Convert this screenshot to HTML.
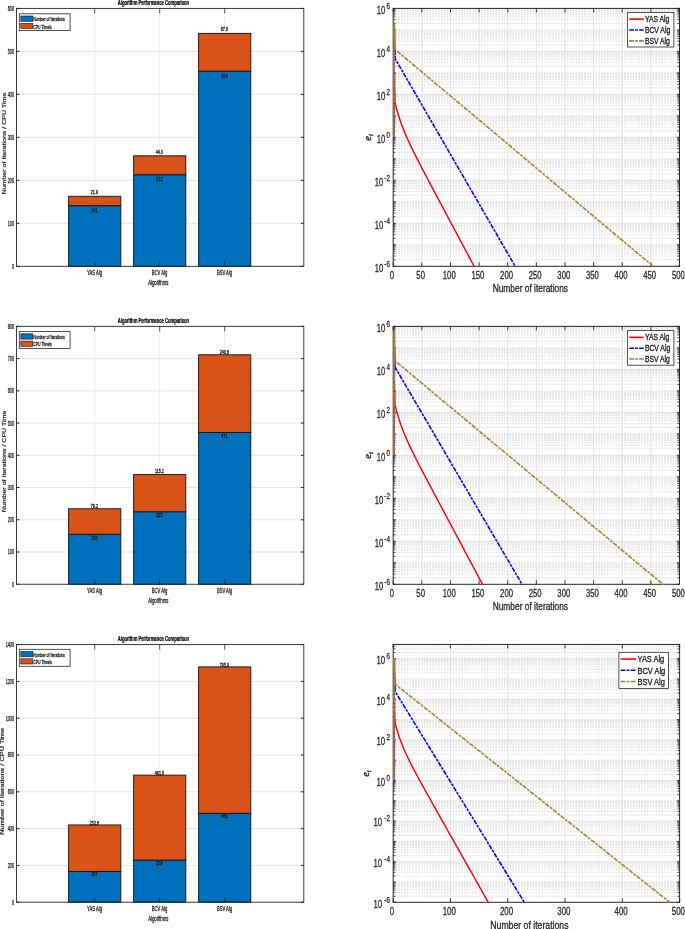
<!DOCTYPE html>
<html lang="en">
<head>
<meta charset="utf-8">
<title>Algorithm Performance Comparison</title>
<style>
html,body{margin:0;padding:0;background:#fff;}
body{width:685px;height:929px;overflow:hidden;}
svg{display:block;font-family:"Liberation Sans", sans-serif;}
</style>
</head>
<body>
<svg width="685" height="929" viewBox="0 0 685 929">
<rect x="0" y="0" width="685" height="929" fill="#ffffff"/>
<line x1="16.5" y1="223.32" x2="303.8" y2="223.32" stroke="#e2e2e2" stroke-width="0.9"/>
<line x1="16.5" y1="180.33" x2="303.8" y2="180.33" stroke="#e2e2e2" stroke-width="0.9"/>
<line x1="16.5" y1="137.35" x2="303.8" y2="137.35" stroke="#e2e2e2" stroke-width="0.9"/>
<line x1="16.5" y1="94.37" x2="303.8" y2="94.37" stroke="#e2e2e2" stroke-width="0.9"/>
<line x1="16.5" y1="51.38" x2="303.8" y2="51.38" stroke="#e2e2e2" stroke-width="0.9"/>
<line x1="94.7" y1="8.4" x2="94.7" y2="266.3" stroke="#e2e2e2" stroke-width="0.7"/>
<line x1="159.7" y1="8.4" x2="159.7" y2="266.3" stroke="#e2e2e2" stroke-width="0.7"/>
<line x1="224.7" y1="8.4" x2="224.7" y2="266.3" stroke="#e2e2e2" stroke-width="0.7"/>
<rect x="68.6" y="205.69" width="52.2" height="60.61" fill="#0072BD" stroke="#111" stroke-width="0.9"/>
<rect x="68.6" y="196.28" width="52.2" height="9.41" fill="#D95319" stroke="#111" stroke-width="0.9"/>
<text transform="translate(94.4 194.28) scale(0.65 1)" font-size="5.7" text-anchor="middle" fill="#111" stroke="#111" stroke-width="0.28">21.9</text>
<text transform="translate(94.4 212.33) scale(0.65 1)" font-size="5.7" text-anchor="middle" fill="#111" stroke="#111" stroke-width="0.28">141</text>
<rect x="133.6" y="174.75" width="52.2" height="91.55" fill="#0072BD" stroke="#111" stroke-width="0.9"/>
<rect x="133.6" y="155.83" width="52.2" height="18.91" fill="#D95319" stroke="#111" stroke-width="0.9"/>
<text transform="translate(159.4 153.84) scale(0.65 1)" font-size="5.7" text-anchor="middle" fill="#111" stroke="#111" stroke-width="0.28">44.0</text>
<text transform="translate(159.4 181.38) scale(0.65 1)" font-size="5.7" text-anchor="middle" fill="#111" stroke="#111" stroke-width="0.28">213</text>
<rect x="198.6" y="71.16" width="52.2" height="195.14" fill="#0072BD" stroke="#111" stroke-width="0.9"/>
<rect x="198.6" y="33.37" width="52.2" height="37.78" fill="#D95319" stroke="#111" stroke-width="0.9"/>
<text transform="translate(224.4 31.38) scale(0.65 1)" font-size="5.7" text-anchor="middle" fill="#111" stroke="#111" stroke-width="0.28">87.9</text>
<text transform="translate(224.4 77.79) scale(0.65 1)" font-size="5.7" text-anchor="middle" fill="#111" stroke="#111" stroke-width="0.28">454</text>
<rect x="16.5" y="8.4" width="287.3" height="257.9" fill="none" stroke="#262626" stroke-width="0.9"/>
<line x1="16.5" y1="266.3" x2="19.5" y2="266.3" stroke="#262626" stroke-width="1"/>
<line x1="303.8" y1="266.3" x2="300.8" y2="266.3" stroke="#262626" stroke-width="1"/>
<text transform="translate(14.1 268.75) scale(0.56 1)" font-size="6.8" text-anchor="end" fill="#262626" stroke="#262626" stroke-width="0.28">0</text>
<line x1="16.5" y1="223.32" x2="19.5" y2="223.32" stroke="#262626" stroke-width="1"/>
<line x1="303.8" y1="223.32" x2="300.8" y2="223.32" stroke="#262626" stroke-width="1"/>
<text transform="translate(14.1 225.77) scale(0.56 1)" font-size="6.8" text-anchor="end" fill="#262626" stroke="#262626" stroke-width="0.28">100</text>
<line x1="16.5" y1="180.33" x2="19.5" y2="180.33" stroke="#262626" stroke-width="1"/>
<line x1="303.8" y1="180.33" x2="300.8" y2="180.33" stroke="#262626" stroke-width="1"/>
<text transform="translate(14.1 182.78) scale(0.56 1)" font-size="6.8" text-anchor="end" fill="#262626" stroke="#262626" stroke-width="0.28">200</text>
<line x1="16.5" y1="137.35" x2="19.5" y2="137.35" stroke="#262626" stroke-width="1"/>
<line x1="303.8" y1="137.35" x2="300.8" y2="137.35" stroke="#262626" stroke-width="1"/>
<text transform="translate(14.1 139.8) scale(0.56 1)" font-size="6.8" text-anchor="end" fill="#262626" stroke="#262626" stroke-width="0.28">300</text>
<line x1="16.5" y1="94.37" x2="19.5" y2="94.37" stroke="#262626" stroke-width="1"/>
<line x1="303.8" y1="94.37" x2="300.8" y2="94.37" stroke="#262626" stroke-width="1"/>
<text transform="translate(14.1 96.82) scale(0.56 1)" font-size="6.8" text-anchor="end" fill="#262626" stroke="#262626" stroke-width="0.28">400</text>
<line x1="16.5" y1="51.38" x2="19.5" y2="51.38" stroke="#262626" stroke-width="1"/>
<line x1="303.8" y1="51.38" x2="300.8" y2="51.38" stroke="#262626" stroke-width="1"/>
<text transform="translate(14.1 53.83) scale(0.56 1)" font-size="6.8" text-anchor="end" fill="#262626" stroke="#262626" stroke-width="0.28">500</text>
<line x1="16.5" y1="8.4" x2="19.5" y2="8.4" stroke="#262626" stroke-width="1"/>
<line x1="303.8" y1="8.4" x2="300.8" y2="8.4" stroke="#262626" stroke-width="1"/>
<text transform="translate(14.1 10.85) scale(0.56 1)" font-size="6.8" text-anchor="end" fill="#262626" stroke="#262626" stroke-width="0.28">600</text>
<line x1="94.7" y1="266.3" x2="94.7" y2="261.3" stroke="#262626" stroke-width="0.75"/>
<line x1="94.7" y1="8.4" x2="94.7" y2="13.4" stroke="#262626" stroke-width="0.75"/>
<text transform="translate(94.5 275.3) scale(0.66 1)" font-size="6.3" text-anchor="middle" fill="#262626" stroke="#262626" stroke-width="0.28">YAS Alg</text>
<line x1="159.7" y1="266.3" x2="159.7" y2="261.3" stroke="#262626" stroke-width="0.75"/>
<line x1="159.7" y1="8.4" x2="159.7" y2="13.4" stroke="#262626" stroke-width="0.75"/>
<text transform="translate(159.5 275.3) scale(0.66 1)" font-size="6.3" text-anchor="middle" fill="#262626" stroke="#262626" stroke-width="0.28">BCV Alg</text>
<line x1="224.7" y1="266.3" x2="224.7" y2="261.3" stroke="#262626" stroke-width="0.75"/>
<line x1="224.7" y1="8.4" x2="224.7" y2="13.4" stroke="#262626" stroke-width="0.75"/>
<text transform="translate(224.5 275.3) scale(0.66 1)" font-size="6.3" text-anchor="middle" fill="#262626" stroke="#262626" stroke-width="0.28">BSV Alg</text>
<text transform="translate(158.25 284.7) scale(0.65 1)" font-size="6.6" text-anchor="middle" fill="#262626" stroke="#262626" stroke-width="0.28">Algorithms</text>
<text transform="translate(5.7 143.55) rotate(-90) scale(1 0.65)" font-size="7.06" text-anchor="middle" fill="#262626" stroke="#262626" stroke-width="0.28">Number of Iterations / CPU Time</text>
<text transform="translate(153.45 5.35) scale(0.65 1)" font-size="6.4" text-anchor="middle" fill="#000" font-weight="bold" stroke="#000" stroke-width="0.25">Algorithm Performance Comparison</text>
<rect x="19.3" y="13.8" width="50.8" height="16.8" fill="#fff" stroke="#262626" stroke-width="0.8"/>
<rect x="20.8" y="16" width="12" height="5.3" fill="#0072BD" stroke="#111" stroke-width="0.6"/>
<rect x="20.8" y="23.3" width="12" height="5.2" fill="#D95319" stroke="#111" stroke-width="0.6"/>
<text transform="translate(33.3 21.4) scale(0.56 1)" font-size="6.2" text-anchor="start" fill="#111" stroke="#111" stroke-width="0.28">Number of Iterations</text>
<text transform="translate(33.3 28.6) scale(0.56 1)" font-size="6.2" text-anchor="start" fill="#111" stroke="#111" stroke-width="0.28">CPU Time/s</text>
<g>
<g stroke="#fafafa" stroke-width="0.8" opacity="1">
<line x1="396.06" y1="8.4" x2="396.06" y2="266.3"/>
<line x1="398.93" y1="8.4" x2="398.93" y2="266.3"/>
<line x1="401.79" y1="8.4" x2="401.79" y2="266.3"/>
<line x1="404.65" y1="8.4" x2="404.65" y2="266.3"/>
<line x1="407.51" y1="8.4" x2="407.51" y2="266.3"/>
<line x1="410.38" y1="8.4" x2="410.38" y2="266.3"/>
<line x1="413.24" y1="8.4" x2="413.24" y2="266.3"/>
<line x1="416.1" y1="8.4" x2="416.1" y2="266.3"/>
<line x1="418.97" y1="8.4" x2="418.97" y2="266.3"/>
<line x1="424.69" y1="8.4" x2="424.69" y2="266.3"/>
<line x1="427.56" y1="8.4" x2="427.56" y2="266.3"/>
<line x1="430.42" y1="8.4" x2="430.42" y2="266.3"/>
<line x1="433.28" y1="8.4" x2="433.28" y2="266.3"/>
<line x1="436.14" y1="8.4" x2="436.14" y2="266.3"/>
<line x1="439.01" y1="8.4" x2="439.01" y2="266.3"/>
<line x1="441.87" y1="8.4" x2="441.87" y2="266.3"/>
<line x1="444.73" y1="8.4" x2="444.73" y2="266.3"/>
<line x1="447.6" y1="8.4" x2="447.6" y2="266.3"/>
<line x1="453.32" y1="8.4" x2="453.32" y2="266.3"/>
<line x1="456.19" y1="8.4" x2="456.19" y2="266.3"/>
<line x1="459.05" y1="8.4" x2="459.05" y2="266.3"/>
<line x1="461.91" y1="8.4" x2="461.91" y2="266.3"/>
<line x1="464.77" y1="8.4" x2="464.77" y2="266.3"/>
<line x1="467.64" y1="8.4" x2="467.64" y2="266.3"/>
<line x1="470.5" y1="8.4" x2="470.5" y2="266.3"/>
<line x1="473.36" y1="8.4" x2="473.36" y2="266.3"/>
<line x1="476.23" y1="8.4" x2="476.23" y2="266.3"/>
<line x1="481.95" y1="8.4" x2="481.95" y2="266.3"/>
<line x1="484.82" y1="8.4" x2="484.82" y2="266.3"/>
<line x1="487.68" y1="8.4" x2="487.68" y2="266.3"/>
<line x1="490.54" y1="8.4" x2="490.54" y2="266.3"/>
<line x1="493.4" y1="8.4" x2="493.4" y2="266.3"/>
<line x1="496.27" y1="8.4" x2="496.27" y2="266.3"/>
<line x1="499.13" y1="8.4" x2="499.13" y2="266.3"/>
<line x1="501.99" y1="8.4" x2="501.99" y2="266.3"/>
<line x1="504.86" y1="8.4" x2="504.86" y2="266.3"/>
<line x1="510.58" y1="8.4" x2="510.58" y2="266.3"/>
<line x1="513.45" y1="8.4" x2="513.45" y2="266.3"/>
<line x1="516.31" y1="8.4" x2="516.31" y2="266.3"/>
<line x1="519.17" y1="8.4" x2="519.17" y2="266.3"/>
<line x1="522.03" y1="8.4" x2="522.03" y2="266.3"/>
<line x1="524.9" y1="8.4" x2="524.9" y2="266.3"/>
<line x1="527.76" y1="8.4" x2="527.76" y2="266.3"/>
<line x1="530.62" y1="8.4" x2="530.62" y2="266.3"/>
<line x1="533.49" y1="8.4" x2="533.49" y2="266.3"/>
<line x1="539.21" y1="8.4" x2="539.21" y2="266.3"/>
<line x1="542.08" y1="8.4" x2="542.08" y2="266.3"/>
<line x1="544.94" y1="8.4" x2="544.94" y2="266.3"/>
<line x1="547.8" y1="8.4" x2="547.8" y2="266.3"/>
<line x1="550.66" y1="8.4" x2="550.66" y2="266.3"/>
<line x1="553.53" y1="8.4" x2="553.53" y2="266.3"/>
<line x1="556.39" y1="8.4" x2="556.39" y2="266.3"/>
<line x1="559.25" y1="8.4" x2="559.25" y2="266.3"/>
<line x1="562.12" y1="8.4" x2="562.12" y2="266.3"/>
<line x1="567.84" y1="8.4" x2="567.84" y2="266.3"/>
<line x1="570.71" y1="8.4" x2="570.71" y2="266.3"/>
<line x1="573.57" y1="8.4" x2="573.57" y2="266.3"/>
<line x1="576.43" y1="8.4" x2="576.43" y2="266.3"/>
<line x1="579.29" y1="8.4" x2="579.29" y2="266.3"/>
<line x1="582.16" y1="8.4" x2="582.16" y2="266.3"/>
<line x1="585.02" y1="8.4" x2="585.02" y2="266.3"/>
<line x1="587.88" y1="8.4" x2="587.88" y2="266.3"/>
<line x1="590.75" y1="8.4" x2="590.75" y2="266.3"/>
<line x1="596.47" y1="8.4" x2="596.47" y2="266.3"/>
<line x1="599.34" y1="8.4" x2="599.34" y2="266.3"/>
<line x1="602.2" y1="8.4" x2="602.2" y2="266.3"/>
<line x1="605.06" y1="8.4" x2="605.06" y2="266.3"/>
<line x1="607.92" y1="8.4" x2="607.92" y2="266.3"/>
<line x1="610.79" y1="8.4" x2="610.79" y2="266.3"/>
<line x1="613.65" y1="8.4" x2="613.65" y2="266.3"/>
<line x1="616.51" y1="8.4" x2="616.51" y2="266.3"/>
<line x1="619.38" y1="8.4" x2="619.38" y2="266.3"/>
<line x1="625.1" y1="8.4" x2="625.1" y2="266.3"/>
<line x1="627.97" y1="8.4" x2="627.97" y2="266.3"/>
<line x1="630.83" y1="8.4" x2="630.83" y2="266.3"/>
<line x1="633.69" y1="8.4" x2="633.69" y2="266.3"/>
<line x1="636.55" y1="8.4" x2="636.55" y2="266.3"/>
<line x1="639.42" y1="8.4" x2="639.42" y2="266.3"/>
<line x1="642.28" y1="8.4" x2="642.28" y2="266.3"/>
<line x1="645.14" y1="8.4" x2="645.14" y2="266.3"/>
<line x1="648.01" y1="8.4" x2="648.01" y2="266.3"/>
<line x1="653.73" y1="8.4" x2="653.73" y2="266.3"/>
<line x1="656.6" y1="8.4" x2="656.6" y2="266.3"/>
<line x1="659.46" y1="8.4" x2="659.46" y2="266.3"/>
<line x1="662.32" y1="8.4" x2="662.32" y2="266.3"/>
<line x1="665.18" y1="8.4" x2="665.18" y2="266.3"/>
<line x1="668.05" y1="8.4" x2="668.05" y2="266.3"/>
<line x1="670.91" y1="8.4" x2="670.91" y2="266.3"/>
<line x1="673.77" y1="8.4" x2="673.77" y2="266.3"/>
<line x1="676.64" y1="8.4" x2="676.64" y2="266.3"/>
</g>
<g stroke="#d6d6d6" stroke-width="0.7" stroke-dasharray="1.8 1.06" stroke-dashoffset="0.9">
<line x1="393.2" y1="259.81" x2="679.5" y2="259.81"/>
<line x1="393.2" y1="256.03" x2="679.5" y2="256.03"/>
<line x1="393.2" y1="253.34" x2="679.5" y2="253.34"/>
<line x1="393.2" y1="251.26" x2="679.5" y2="251.26"/>
<line x1="393.2" y1="249.56" x2="679.5" y2="249.56"/>
<line x1="393.2" y1="248.12" x2="679.5" y2="248.12"/>
<line x1="393.2" y1="246.87" x2="679.5" y2="246.87"/>
<line x1="393.2" y1="245.77" x2="679.5" y2="245.77"/>
<line x1="393.2" y1="244.79" x2="679.5" y2="244.79"/>
<line x1="393.2" y1="238.32" x2="679.5" y2="238.32"/>
<line x1="393.2" y1="234.54" x2="679.5" y2="234.54"/>
<line x1="393.2" y1="231.85" x2="679.5" y2="231.85"/>
<line x1="393.2" y1="229.77" x2="679.5" y2="229.77"/>
<line x1="393.2" y1="228.07" x2="679.5" y2="228.07"/>
<line x1="393.2" y1="226.63" x2="679.5" y2="226.63"/>
<line x1="393.2" y1="225.38" x2="679.5" y2="225.38"/>
<line x1="393.2" y1="224.28" x2="679.5" y2="224.28"/>
<line x1="393.2" y1="216.83" x2="679.5" y2="216.83"/>
<line x1="393.2" y1="213.05" x2="679.5" y2="213.05"/>
<line x1="393.2" y1="210.36" x2="679.5" y2="210.36"/>
<line x1="393.2" y1="208.28" x2="679.5" y2="208.28"/>
<line x1="393.2" y1="206.58" x2="679.5" y2="206.58"/>
<line x1="393.2" y1="205.14" x2="679.5" y2="205.14"/>
<line x1="393.2" y1="203.89" x2="679.5" y2="203.89"/>
<line x1="393.2" y1="202.79" x2="679.5" y2="202.79"/>
<line x1="393.2" y1="201.81" x2="679.5" y2="201.81"/>
<line x1="393.2" y1="195.34" x2="679.5" y2="195.34"/>
<line x1="393.2" y1="191.56" x2="679.5" y2="191.56"/>
<line x1="393.2" y1="188.87" x2="679.5" y2="188.87"/>
<line x1="393.2" y1="186.79" x2="679.5" y2="186.79"/>
<line x1="393.2" y1="185.09" x2="679.5" y2="185.09"/>
<line x1="393.2" y1="183.65" x2="679.5" y2="183.65"/>
<line x1="393.2" y1="182.4" x2="679.5" y2="182.4"/>
<line x1="393.2" y1="181.3" x2="679.5" y2="181.3"/>
<line x1="393.2" y1="173.85" x2="679.5" y2="173.85"/>
<line x1="393.2" y1="170.07" x2="679.5" y2="170.07"/>
<line x1="393.2" y1="167.38" x2="679.5" y2="167.38"/>
<line x1="393.2" y1="165.3" x2="679.5" y2="165.3"/>
<line x1="393.2" y1="163.6" x2="679.5" y2="163.6"/>
<line x1="393.2" y1="162.16" x2="679.5" y2="162.16"/>
<line x1="393.2" y1="160.91" x2="679.5" y2="160.91"/>
<line x1="393.2" y1="159.81" x2="679.5" y2="159.81"/>
<line x1="393.2" y1="158.83" x2="679.5" y2="158.83"/>
<line x1="393.2" y1="152.36" x2="679.5" y2="152.36"/>
<line x1="393.2" y1="148.58" x2="679.5" y2="148.58"/>
<line x1="393.2" y1="145.89" x2="679.5" y2="145.89"/>
<line x1="393.2" y1="143.81" x2="679.5" y2="143.81"/>
<line x1="393.2" y1="142.11" x2="679.5" y2="142.11"/>
<line x1="393.2" y1="140.67" x2="679.5" y2="140.67"/>
<line x1="393.2" y1="139.42" x2="679.5" y2="139.42"/>
<line x1="393.2" y1="138.32" x2="679.5" y2="138.32"/>
<line x1="393.2" y1="130.87" x2="679.5" y2="130.87"/>
<line x1="393.2" y1="127.09" x2="679.5" y2="127.09"/>
<line x1="393.2" y1="124.4" x2="679.5" y2="124.4"/>
<line x1="393.2" y1="122.32" x2="679.5" y2="122.32"/>
<line x1="393.2" y1="120.62" x2="679.5" y2="120.62"/>
<line x1="393.2" y1="119.18" x2="679.5" y2="119.18"/>
<line x1="393.2" y1="117.93" x2="679.5" y2="117.93"/>
<line x1="393.2" y1="116.83" x2="679.5" y2="116.83"/>
<line x1="393.2" y1="115.85" x2="679.5" y2="115.85"/>
<line x1="393.2" y1="109.38" x2="679.5" y2="109.38"/>
<line x1="393.2" y1="105.6" x2="679.5" y2="105.6"/>
<line x1="393.2" y1="102.91" x2="679.5" y2="102.91"/>
<line x1="393.2" y1="100.83" x2="679.5" y2="100.83"/>
<line x1="393.2" y1="99.13" x2="679.5" y2="99.13"/>
<line x1="393.2" y1="97.69" x2="679.5" y2="97.69"/>
<line x1="393.2" y1="96.44" x2="679.5" y2="96.44"/>
<line x1="393.2" y1="95.34" x2="679.5" y2="95.34"/>
<line x1="393.2" y1="87.89" x2="679.5" y2="87.89"/>
<line x1="393.2" y1="84.11" x2="679.5" y2="84.11"/>
<line x1="393.2" y1="81.42" x2="679.5" y2="81.42"/>
<line x1="393.2" y1="79.34" x2="679.5" y2="79.34"/>
<line x1="393.2" y1="77.64" x2="679.5" y2="77.64"/>
<line x1="393.2" y1="76.2" x2="679.5" y2="76.2"/>
<line x1="393.2" y1="74.95" x2="679.5" y2="74.95"/>
<line x1="393.2" y1="73.85" x2="679.5" y2="73.85"/>
<line x1="393.2" y1="72.87" x2="679.5" y2="72.87"/>
<line x1="393.2" y1="66.4" x2="679.5" y2="66.4"/>
<line x1="393.2" y1="62.62" x2="679.5" y2="62.62"/>
<line x1="393.2" y1="59.93" x2="679.5" y2="59.93"/>
<line x1="393.2" y1="57.85" x2="679.5" y2="57.85"/>
<line x1="393.2" y1="56.15" x2="679.5" y2="56.15"/>
<line x1="393.2" y1="54.71" x2="679.5" y2="54.71"/>
<line x1="393.2" y1="53.46" x2="679.5" y2="53.46"/>
<line x1="393.2" y1="52.36" x2="679.5" y2="52.36"/>
<line x1="393.2" y1="44.91" x2="679.5" y2="44.91"/>
<line x1="393.2" y1="41.13" x2="679.5" y2="41.13"/>
<line x1="393.2" y1="38.44" x2="679.5" y2="38.44"/>
<line x1="393.2" y1="36.36" x2="679.5" y2="36.36"/>
<line x1="393.2" y1="34.66" x2="679.5" y2="34.66"/>
<line x1="393.2" y1="33.22" x2="679.5" y2="33.22"/>
<line x1="393.2" y1="31.97" x2="679.5" y2="31.97"/>
<line x1="393.2" y1="30.87" x2="679.5" y2="30.87"/>
<line x1="393.2" y1="29.89" x2="679.5" y2="29.89"/>
<line x1="393.2" y1="23.42" x2="679.5" y2="23.42"/>
<line x1="393.2" y1="19.64" x2="679.5" y2="19.64"/>
<line x1="393.2" y1="16.95" x2="679.5" y2="16.95"/>
<line x1="393.2" y1="14.87" x2="679.5" y2="14.87"/>
<line x1="393.2" y1="13.17" x2="679.5" y2="13.17"/>
<line x1="393.2" y1="11.73" x2="679.5" y2="11.73"/>
<line x1="393.2" y1="10.48" x2="679.5" y2="10.48"/>
<line x1="393.2" y1="9.38" x2="679.5" y2="9.38"/>
</g>
<line x1="421.83" y1="8.4" x2="421.83" y2="266.3" stroke="#e1e1e1" stroke-width="0.9"/>
<line x1="450.46" y1="8.4" x2="450.46" y2="266.3" stroke="#e1e1e1" stroke-width="0.9"/>
<line x1="479.09" y1="8.4" x2="479.09" y2="266.3" stroke="#e1e1e1" stroke-width="0.9"/>
<line x1="507.72" y1="8.4" x2="507.72" y2="266.3" stroke="#e1e1e1" stroke-width="0.9"/>
<line x1="536.35" y1="8.4" x2="536.35" y2="266.3" stroke="#e1e1e1" stroke-width="0.9"/>
<line x1="564.98" y1="8.4" x2="564.98" y2="266.3" stroke="#e1e1e1" stroke-width="0.9"/>
<line x1="593.61" y1="8.4" x2="593.61" y2="266.3" stroke="#e1e1e1" stroke-width="0.9"/>
<line x1="622.24" y1="8.4" x2="622.24" y2="266.3" stroke="#e1e1e1" stroke-width="0.9"/>
<line x1="650.87" y1="8.4" x2="650.87" y2="266.3" stroke="#e1e1e1" stroke-width="0.9"/>
<line x1="393.2" y1="223.3" x2="679.5" y2="223.3" stroke="#e1e1e1" stroke-width="1"/>
<line x1="393.2" y1="180.32" x2="679.5" y2="180.32" stroke="#e1e1e1" stroke-width="1"/>
<line x1="393.2" y1="137.34" x2="679.5" y2="137.34" stroke="#e1e1e1" stroke-width="1"/>
<line x1="393.2" y1="94.36" x2="679.5" y2="94.36" stroke="#e1e1e1" stroke-width="1"/>
<line x1="393.2" y1="51.38" x2="679.5" y2="51.38" stroke="#e1e1e1" stroke-width="1"/>
<rect x="393.2" y="8.4" width="286.3" height="257.9" fill="none" stroke="#262626" stroke-width="1"/>
<line x1="393.2" y1="266.3" x2="393.2" y2="262.3" stroke="#262626" stroke-width="0.9"/>
<line x1="393.2" y1="8.4" x2="393.2" y2="12.4" stroke="#262626" stroke-width="0.9"/>
<text transform="translate(392 278.8) scale(0.77 1)" font-size="10" text-anchor="middle" fill="#262626" stroke="#262626" stroke-width="0.28">0</text>
<line x1="421.83" y1="266.3" x2="421.83" y2="262.3" stroke="#262626" stroke-width="0.9"/>
<line x1="421.83" y1="8.4" x2="421.83" y2="12.4" stroke="#262626" stroke-width="0.9"/>
<text transform="translate(420.63 278.8) scale(0.77 1)" font-size="10" text-anchor="middle" fill="#262626" stroke="#262626" stroke-width="0.28">50</text>
<line x1="450.46" y1="266.3" x2="450.46" y2="262.3" stroke="#262626" stroke-width="0.9"/>
<line x1="450.46" y1="8.4" x2="450.46" y2="12.4" stroke="#262626" stroke-width="0.9"/>
<text transform="translate(449.26 278.8) scale(0.77 1)" font-size="10" text-anchor="middle" fill="#262626" stroke="#262626" stroke-width="0.28">100</text>
<line x1="479.09" y1="266.3" x2="479.09" y2="262.3" stroke="#262626" stroke-width="0.9"/>
<line x1="479.09" y1="8.4" x2="479.09" y2="12.4" stroke="#262626" stroke-width="0.9"/>
<text transform="translate(477.89 278.8) scale(0.77 1)" font-size="10" text-anchor="middle" fill="#262626" stroke="#262626" stroke-width="0.28">150</text>
<line x1="507.72" y1="266.3" x2="507.72" y2="262.3" stroke="#262626" stroke-width="0.9"/>
<line x1="507.72" y1="8.4" x2="507.72" y2="12.4" stroke="#262626" stroke-width="0.9"/>
<text transform="translate(506.52 278.8) scale(0.77 1)" font-size="10" text-anchor="middle" fill="#262626" stroke="#262626" stroke-width="0.28">200</text>
<line x1="536.35" y1="266.3" x2="536.35" y2="262.3" stroke="#262626" stroke-width="0.9"/>
<line x1="536.35" y1="8.4" x2="536.35" y2="12.4" stroke="#262626" stroke-width="0.9"/>
<text transform="translate(535.15 278.8) scale(0.77 1)" font-size="10" text-anchor="middle" fill="#262626" stroke="#262626" stroke-width="0.28">250</text>
<line x1="564.98" y1="266.3" x2="564.98" y2="262.3" stroke="#262626" stroke-width="0.9"/>
<line x1="564.98" y1="8.4" x2="564.98" y2="12.4" stroke="#262626" stroke-width="0.9"/>
<text transform="translate(563.78 278.8) scale(0.77 1)" font-size="10" text-anchor="middle" fill="#262626" stroke="#262626" stroke-width="0.28">300</text>
<line x1="593.61" y1="266.3" x2="593.61" y2="262.3" stroke="#262626" stroke-width="0.9"/>
<line x1="593.61" y1="8.4" x2="593.61" y2="12.4" stroke="#262626" stroke-width="0.9"/>
<text transform="translate(592.41 278.8) scale(0.77 1)" font-size="10" text-anchor="middle" fill="#262626" stroke="#262626" stroke-width="0.28">350</text>
<line x1="622.24" y1="266.3" x2="622.24" y2="262.3" stroke="#262626" stroke-width="0.9"/>
<line x1="622.24" y1="8.4" x2="622.24" y2="12.4" stroke="#262626" stroke-width="0.9"/>
<text transform="translate(621.04 278.8) scale(0.77 1)" font-size="10" text-anchor="middle" fill="#262626" stroke="#262626" stroke-width="0.28">400</text>
<line x1="650.87" y1="266.3" x2="650.87" y2="262.3" stroke="#262626" stroke-width="0.9"/>
<line x1="650.87" y1="8.4" x2="650.87" y2="12.4" stroke="#262626" stroke-width="0.9"/>
<text transform="translate(649.67 278.8) scale(0.77 1)" font-size="10" text-anchor="middle" fill="#262626" stroke="#262626" stroke-width="0.28">450</text>
<line x1="679.5" y1="266.3" x2="679.5" y2="262.3" stroke="#262626" stroke-width="0.9"/>
<line x1="679.5" y1="8.4" x2="679.5" y2="12.4" stroke="#262626" stroke-width="0.9"/>
<text transform="translate(678.3 278.8) scale(0.77 1)" font-size="10" text-anchor="middle" fill="#262626" stroke="#262626" stroke-width="0.28">500</text>
<line x1="393.2" y1="266.28" x2="396" y2="266.28" stroke="#262626" stroke-width="0.9"/>
<line x1="679.5" y1="266.28" x2="676.7" y2="266.28" stroke="#262626" stroke-width="0.9"/>
<text transform="translate(383.2 271.53) scale(0.76 1)" font-size="10" text-anchor="end" fill="#262626" stroke="#262626" stroke-width="0.28">10</text>
<text transform="translate(389.9 266.58) scale(0.75 1)" font-size="8.4" text-anchor="end" fill="#262626" stroke="#262626" stroke-width="0.28">-6</text>
<line x1="393.2" y1="259.81" x2="395.3" y2="259.81" stroke="#262626" stroke-width="0.85"/>
<line x1="679.5" y1="259.81" x2="677.4" y2="259.81" stroke="#262626" stroke-width="0.85"/>
<line x1="393.2" y1="256.03" x2="395.3" y2="256.03" stroke="#262626" stroke-width="0.85"/>
<line x1="679.5" y1="256.03" x2="677.4" y2="256.03" stroke="#262626" stroke-width="0.85"/>
<line x1="393.2" y1="253.34" x2="395.3" y2="253.34" stroke="#262626" stroke-width="0.85"/>
<line x1="679.5" y1="253.34" x2="677.4" y2="253.34" stroke="#262626" stroke-width="0.85"/>
<line x1="393.2" y1="251.26" x2="395.3" y2="251.26" stroke="#262626" stroke-width="0.85"/>
<line x1="679.5" y1="251.26" x2="677.4" y2="251.26" stroke="#262626" stroke-width="0.85"/>
<line x1="393.2" y1="249.56" x2="395.3" y2="249.56" stroke="#262626" stroke-width="0.85"/>
<line x1="679.5" y1="249.56" x2="677.4" y2="249.56" stroke="#262626" stroke-width="0.85"/>
<line x1="393.2" y1="248.12" x2="395.3" y2="248.12" stroke="#262626" stroke-width="0.85"/>
<line x1="679.5" y1="248.12" x2="677.4" y2="248.12" stroke="#262626" stroke-width="0.85"/>
<line x1="393.2" y1="246.87" x2="395.3" y2="246.87" stroke="#262626" stroke-width="0.85"/>
<line x1="679.5" y1="246.87" x2="677.4" y2="246.87" stroke="#262626" stroke-width="0.85"/>
<line x1="393.2" y1="245.77" x2="395.3" y2="245.77" stroke="#262626" stroke-width="0.85"/>
<line x1="679.5" y1="245.77" x2="677.4" y2="245.77" stroke="#262626" stroke-width="0.85"/>
<line x1="393.2" y1="244.79" x2="396" y2="244.79" stroke="#262626" stroke-width="0.9"/>
<line x1="679.5" y1="244.79" x2="676.7" y2="244.79" stroke="#262626" stroke-width="0.9"/>
<line x1="393.2" y1="238.32" x2="395.3" y2="238.32" stroke="#262626" stroke-width="0.85"/>
<line x1="679.5" y1="238.32" x2="677.4" y2="238.32" stroke="#262626" stroke-width="0.85"/>
<line x1="393.2" y1="234.54" x2="395.3" y2="234.54" stroke="#262626" stroke-width="0.85"/>
<line x1="679.5" y1="234.54" x2="677.4" y2="234.54" stroke="#262626" stroke-width="0.85"/>
<line x1="393.2" y1="231.85" x2="395.3" y2="231.85" stroke="#262626" stroke-width="0.85"/>
<line x1="679.5" y1="231.85" x2="677.4" y2="231.85" stroke="#262626" stroke-width="0.85"/>
<line x1="393.2" y1="229.77" x2="395.3" y2="229.77" stroke="#262626" stroke-width="0.85"/>
<line x1="679.5" y1="229.77" x2="677.4" y2="229.77" stroke="#262626" stroke-width="0.85"/>
<line x1="393.2" y1="228.07" x2="395.3" y2="228.07" stroke="#262626" stroke-width="0.85"/>
<line x1="679.5" y1="228.07" x2="677.4" y2="228.07" stroke="#262626" stroke-width="0.85"/>
<line x1="393.2" y1="226.63" x2="395.3" y2="226.63" stroke="#262626" stroke-width="0.85"/>
<line x1="679.5" y1="226.63" x2="677.4" y2="226.63" stroke="#262626" stroke-width="0.85"/>
<line x1="393.2" y1="225.38" x2="395.3" y2="225.38" stroke="#262626" stroke-width="0.85"/>
<line x1="679.5" y1="225.38" x2="677.4" y2="225.38" stroke="#262626" stroke-width="0.85"/>
<line x1="393.2" y1="224.28" x2="395.3" y2="224.28" stroke="#262626" stroke-width="0.85"/>
<line x1="679.5" y1="224.28" x2="677.4" y2="224.28" stroke="#262626" stroke-width="0.85"/>
<line x1="393.2" y1="223.3" x2="396" y2="223.3" stroke="#262626" stroke-width="0.9"/>
<line x1="679.5" y1="223.3" x2="676.7" y2="223.3" stroke="#262626" stroke-width="0.9"/>
<text transform="translate(383.2 228.55) scale(0.76 1)" font-size="10" text-anchor="end" fill="#262626" stroke="#262626" stroke-width="0.28">10</text>
<text transform="translate(389.9 223.6) scale(0.75 1)" font-size="8.4" text-anchor="end" fill="#262626" stroke="#262626" stroke-width="0.28">-4</text>
<line x1="393.2" y1="216.83" x2="395.3" y2="216.83" stroke="#262626" stroke-width="0.85"/>
<line x1="679.5" y1="216.83" x2="677.4" y2="216.83" stroke="#262626" stroke-width="0.85"/>
<line x1="393.2" y1="213.05" x2="395.3" y2="213.05" stroke="#262626" stroke-width="0.85"/>
<line x1="679.5" y1="213.05" x2="677.4" y2="213.05" stroke="#262626" stroke-width="0.85"/>
<line x1="393.2" y1="210.36" x2="395.3" y2="210.36" stroke="#262626" stroke-width="0.85"/>
<line x1="679.5" y1="210.36" x2="677.4" y2="210.36" stroke="#262626" stroke-width="0.85"/>
<line x1="393.2" y1="208.28" x2="395.3" y2="208.28" stroke="#262626" stroke-width="0.85"/>
<line x1="679.5" y1="208.28" x2="677.4" y2="208.28" stroke="#262626" stroke-width="0.85"/>
<line x1="393.2" y1="206.58" x2="395.3" y2="206.58" stroke="#262626" stroke-width="0.85"/>
<line x1="679.5" y1="206.58" x2="677.4" y2="206.58" stroke="#262626" stroke-width="0.85"/>
<line x1="393.2" y1="205.14" x2="395.3" y2="205.14" stroke="#262626" stroke-width="0.85"/>
<line x1="679.5" y1="205.14" x2="677.4" y2="205.14" stroke="#262626" stroke-width="0.85"/>
<line x1="393.2" y1="203.89" x2="395.3" y2="203.89" stroke="#262626" stroke-width="0.85"/>
<line x1="679.5" y1="203.89" x2="677.4" y2="203.89" stroke="#262626" stroke-width="0.85"/>
<line x1="393.2" y1="202.79" x2="395.3" y2="202.79" stroke="#262626" stroke-width="0.85"/>
<line x1="679.5" y1="202.79" x2="677.4" y2="202.79" stroke="#262626" stroke-width="0.85"/>
<line x1="393.2" y1="201.81" x2="396" y2="201.81" stroke="#262626" stroke-width="0.9"/>
<line x1="679.5" y1="201.81" x2="676.7" y2="201.81" stroke="#262626" stroke-width="0.9"/>
<line x1="393.2" y1="195.34" x2="395.3" y2="195.34" stroke="#262626" stroke-width="0.85"/>
<line x1="679.5" y1="195.34" x2="677.4" y2="195.34" stroke="#262626" stroke-width="0.85"/>
<line x1="393.2" y1="191.56" x2="395.3" y2="191.56" stroke="#262626" stroke-width="0.85"/>
<line x1="679.5" y1="191.56" x2="677.4" y2="191.56" stroke="#262626" stroke-width="0.85"/>
<line x1="393.2" y1="188.87" x2="395.3" y2="188.87" stroke="#262626" stroke-width="0.85"/>
<line x1="679.5" y1="188.87" x2="677.4" y2="188.87" stroke="#262626" stroke-width="0.85"/>
<line x1="393.2" y1="186.79" x2="395.3" y2="186.79" stroke="#262626" stroke-width="0.85"/>
<line x1="679.5" y1="186.79" x2="677.4" y2="186.79" stroke="#262626" stroke-width="0.85"/>
<line x1="393.2" y1="185.09" x2="395.3" y2="185.09" stroke="#262626" stroke-width="0.85"/>
<line x1="679.5" y1="185.09" x2="677.4" y2="185.09" stroke="#262626" stroke-width="0.85"/>
<line x1="393.2" y1="183.65" x2="395.3" y2="183.65" stroke="#262626" stroke-width="0.85"/>
<line x1="679.5" y1="183.65" x2="677.4" y2="183.65" stroke="#262626" stroke-width="0.85"/>
<line x1="393.2" y1="182.4" x2="395.3" y2="182.4" stroke="#262626" stroke-width="0.85"/>
<line x1="679.5" y1="182.4" x2="677.4" y2="182.4" stroke="#262626" stroke-width="0.85"/>
<line x1="393.2" y1="181.3" x2="395.3" y2="181.3" stroke="#262626" stroke-width="0.85"/>
<line x1="679.5" y1="181.3" x2="677.4" y2="181.3" stroke="#262626" stroke-width="0.85"/>
<line x1="393.2" y1="180.32" x2="396" y2="180.32" stroke="#262626" stroke-width="0.9"/>
<line x1="679.5" y1="180.32" x2="676.7" y2="180.32" stroke="#262626" stroke-width="0.9"/>
<text transform="translate(383.2 185.57) scale(0.76 1)" font-size="10" text-anchor="end" fill="#262626" stroke="#262626" stroke-width="0.28">10</text>
<text transform="translate(389.9 180.62) scale(0.75 1)" font-size="8.4" text-anchor="end" fill="#262626" stroke="#262626" stroke-width="0.28">-2</text>
<line x1="393.2" y1="173.85" x2="395.3" y2="173.85" stroke="#262626" stroke-width="0.85"/>
<line x1="679.5" y1="173.85" x2="677.4" y2="173.85" stroke="#262626" stroke-width="0.85"/>
<line x1="393.2" y1="170.07" x2="395.3" y2="170.07" stroke="#262626" stroke-width="0.85"/>
<line x1="679.5" y1="170.07" x2="677.4" y2="170.07" stroke="#262626" stroke-width="0.85"/>
<line x1="393.2" y1="167.38" x2="395.3" y2="167.38" stroke="#262626" stroke-width="0.85"/>
<line x1="679.5" y1="167.38" x2="677.4" y2="167.38" stroke="#262626" stroke-width="0.85"/>
<line x1="393.2" y1="165.3" x2="395.3" y2="165.3" stroke="#262626" stroke-width="0.85"/>
<line x1="679.5" y1="165.3" x2="677.4" y2="165.3" stroke="#262626" stroke-width="0.85"/>
<line x1="393.2" y1="163.6" x2="395.3" y2="163.6" stroke="#262626" stroke-width="0.85"/>
<line x1="679.5" y1="163.6" x2="677.4" y2="163.6" stroke="#262626" stroke-width="0.85"/>
<line x1="393.2" y1="162.16" x2="395.3" y2="162.16" stroke="#262626" stroke-width="0.85"/>
<line x1="679.5" y1="162.16" x2="677.4" y2="162.16" stroke="#262626" stroke-width="0.85"/>
<line x1="393.2" y1="160.91" x2="395.3" y2="160.91" stroke="#262626" stroke-width="0.85"/>
<line x1="679.5" y1="160.91" x2="677.4" y2="160.91" stroke="#262626" stroke-width="0.85"/>
<line x1="393.2" y1="159.81" x2="395.3" y2="159.81" stroke="#262626" stroke-width="0.85"/>
<line x1="679.5" y1="159.81" x2="677.4" y2="159.81" stroke="#262626" stroke-width="0.85"/>
<line x1="393.2" y1="158.83" x2="396" y2="158.83" stroke="#262626" stroke-width="0.9"/>
<line x1="679.5" y1="158.83" x2="676.7" y2="158.83" stroke="#262626" stroke-width="0.9"/>
<line x1="393.2" y1="152.36" x2="395.3" y2="152.36" stroke="#262626" stroke-width="0.85"/>
<line x1="679.5" y1="152.36" x2="677.4" y2="152.36" stroke="#262626" stroke-width="0.85"/>
<line x1="393.2" y1="148.58" x2="395.3" y2="148.58" stroke="#262626" stroke-width="0.85"/>
<line x1="679.5" y1="148.58" x2="677.4" y2="148.58" stroke="#262626" stroke-width="0.85"/>
<line x1="393.2" y1="145.89" x2="395.3" y2="145.89" stroke="#262626" stroke-width="0.85"/>
<line x1="679.5" y1="145.89" x2="677.4" y2="145.89" stroke="#262626" stroke-width="0.85"/>
<line x1="393.2" y1="143.81" x2="395.3" y2="143.81" stroke="#262626" stroke-width="0.85"/>
<line x1="679.5" y1="143.81" x2="677.4" y2="143.81" stroke="#262626" stroke-width="0.85"/>
<line x1="393.2" y1="142.11" x2="395.3" y2="142.11" stroke="#262626" stroke-width="0.85"/>
<line x1="679.5" y1="142.11" x2="677.4" y2="142.11" stroke="#262626" stroke-width="0.85"/>
<line x1="393.2" y1="140.67" x2="395.3" y2="140.67" stroke="#262626" stroke-width="0.85"/>
<line x1="679.5" y1="140.67" x2="677.4" y2="140.67" stroke="#262626" stroke-width="0.85"/>
<line x1="393.2" y1="139.42" x2="395.3" y2="139.42" stroke="#262626" stroke-width="0.85"/>
<line x1="679.5" y1="139.42" x2="677.4" y2="139.42" stroke="#262626" stroke-width="0.85"/>
<line x1="393.2" y1="138.32" x2="395.3" y2="138.32" stroke="#262626" stroke-width="0.85"/>
<line x1="679.5" y1="138.32" x2="677.4" y2="138.32" stroke="#262626" stroke-width="0.85"/>
<line x1="393.2" y1="137.34" x2="396" y2="137.34" stroke="#262626" stroke-width="0.9"/>
<line x1="679.5" y1="137.34" x2="676.7" y2="137.34" stroke="#262626" stroke-width="0.9"/>
<text transform="translate(385.2 142.59) scale(0.76 1)" font-size="10" text-anchor="end" fill="#262626" stroke="#262626" stroke-width="0.28">10</text>
<text transform="translate(389.9 137.64) scale(0.75 1)" font-size="8.4" text-anchor="end" fill="#262626" stroke="#262626" stroke-width="0.28">0</text>
<line x1="393.2" y1="130.87" x2="395.3" y2="130.87" stroke="#262626" stroke-width="0.85"/>
<line x1="679.5" y1="130.87" x2="677.4" y2="130.87" stroke="#262626" stroke-width="0.85"/>
<line x1="393.2" y1="127.09" x2="395.3" y2="127.09" stroke="#262626" stroke-width="0.85"/>
<line x1="679.5" y1="127.09" x2="677.4" y2="127.09" stroke="#262626" stroke-width="0.85"/>
<line x1="393.2" y1="124.4" x2="395.3" y2="124.4" stroke="#262626" stroke-width="0.85"/>
<line x1="679.5" y1="124.4" x2="677.4" y2="124.4" stroke="#262626" stroke-width="0.85"/>
<line x1="393.2" y1="122.32" x2="395.3" y2="122.32" stroke="#262626" stroke-width="0.85"/>
<line x1="679.5" y1="122.32" x2="677.4" y2="122.32" stroke="#262626" stroke-width="0.85"/>
<line x1="393.2" y1="120.62" x2="395.3" y2="120.62" stroke="#262626" stroke-width="0.85"/>
<line x1="679.5" y1="120.62" x2="677.4" y2="120.62" stroke="#262626" stroke-width="0.85"/>
<line x1="393.2" y1="119.18" x2="395.3" y2="119.18" stroke="#262626" stroke-width="0.85"/>
<line x1="679.5" y1="119.18" x2="677.4" y2="119.18" stroke="#262626" stroke-width="0.85"/>
<line x1="393.2" y1="117.93" x2="395.3" y2="117.93" stroke="#262626" stroke-width="0.85"/>
<line x1="679.5" y1="117.93" x2="677.4" y2="117.93" stroke="#262626" stroke-width="0.85"/>
<line x1="393.2" y1="116.83" x2="395.3" y2="116.83" stroke="#262626" stroke-width="0.85"/>
<line x1="679.5" y1="116.83" x2="677.4" y2="116.83" stroke="#262626" stroke-width="0.85"/>
<line x1="393.2" y1="115.85" x2="396" y2="115.85" stroke="#262626" stroke-width="0.9"/>
<line x1="679.5" y1="115.85" x2="676.7" y2="115.85" stroke="#262626" stroke-width="0.9"/>
<line x1="393.2" y1="109.38" x2="395.3" y2="109.38" stroke="#262626" stroke-width="0.85"/>
<line x1="679.5" y1="109.38" x2="677.4" y2="109.38" stroke="#262626" stroke-width="0.85"/>
<line x1="393.2" y1="105.6" x2="395.3" y2="105.6" stroke="#262626" stroke-width="0.85"/>
<line x1="679.5" y1="105.6" x2="677.4" y2="105.6" stroke="#262626" stroke-width="0.85"/>
<line x1="393.2" y1="102.91" x2="395.3" y2="102.91" stroke="#262626" stroke-width="0.85"/>
<line x1="679.5" y1="102.91" x2="677.4" y2="102.91" stroke="#262626" stroke-width="0.85"/>
<line x1="393.2" y1="100.83" x2="395.3" y2="100.83" stroke="#262626" stroke-width="0.85"/>
<line x1="679.5" y1="100.83" x2="677.4" y2="100.83" stroke="#262626" stroke-width="0.85"/>
<line x1="393.2" y1="99.13" x2="395.3" y2="99.13" stroke="#262626" stroke-width="0.85"/>
<line x1="679.5" y1="99.13" x2="677.4" y2="99.13" stroke="#262626" stroke-width="0.85"/>
<line x1="393.2" y1="97.69" x2="395.3" y2="97.69" stroke="#262626" stroke-width="0.85"/>
<line x1="679.5" y1="97.69" x2="677.4" y2="97.69" stroke="#262626" stroke-width="0.85"/>
<line x1="393.2" y1="96.44" x2="395.3" y2="96.44" stroke="#262626" stroke-width="0.85"/>
<line x1="679.5" y1="96.44" x2="677.4" y2="96.44" stroke="#262626" stroke-width="0.85"/>
<line x1="393.2" y1="95.34" x2="395.3" y2="95.34" stroke="#262626" stroke-width="0.85"/>
<line x1="679.5" y1="95.34" x2="677.4" y2="95.34" stroke="#262626" stroke-width="0.85"/>
<line x1="393.2" y1="94.36" x2="396" y2="94.36" stroke="#262626" stroke-width="0.9"/>
<line x1="679.5" y1="94.36" x2="676.7" y2="94.36" stroke="#262626" stroke-width="0.9"/>
<text transform="translate(385.2 99.61) scale(0.76 1)" font-size="10" text-anchor="end" fill="#262626" stroke="#262626" stroke-width="0.28">10</text>
<text transform="translate(389.9 94.66) scale(0.75 1)" font-size="8.4" text-anchor="end" fill="#262626" stroke="#262626" stroke-width="0.28">2</text>
<line x1="393.2" y1="87.89" x2="395.3" y2="87.89" stroke="#262626" stroke-width="0.85"/>
<line x1="679.5" y1="87.89" x2="677.4" y2="87.89" stroke="#262626" stroke-width="0.85"/>
<line x1="393.2" y1="84.11" x2="395.3" y2="84.11" stroke="#262626" stroke-width="0.85"/>
<line x1="679.5" y1="84.11" x2="677.4" y2="84.11" stroke="#262626" stroke-width="0.85"/>
<line x1="393.2" y1="81.42" x2="395.3" y2="81.42" stroke="#262626" stroke-width="0.85"/>
<line x1="679.5" y1="81.42" x2="677.4" y2="81.42" stroke="#262626" stroke-width="0.85"/>
<line x1="393.2" y1="79.34" x2="395.3" y2="79.34" stroke="#262626" stroke-width="0.85"/>
<line x1="679.5" y1="79.34" x2="677.4" y2="79.34" stroke="#262626" stroke-width="0.85"/>
<line x1="393.2" y1="77.64" x2="395.3" y2="77.64" stroke="#262626" stroke-width="0.85"/>
<line x1="679.5" y1="77.64" x2="677.4" y2="77.64" stroke="#262626" stroke-width="0.85"/>
<line x1="393.2" y1="76.2" x2="395.3" y2="76.2" stroke="#262626" stroke-width="0.85"/>
<line x1="679.5" y1="76.2" x2="677.4" y2="76.2" stroke="#262626" stroke-width="0.85"/>
<line x1="393.2" y1="74.95" x2="395.3" y2="74.95" stroke="#262626" stroke-width="0.85"/>
<line x1="679.5" y1="74.95" x2="677.4" y2="74.95" stroke="#262626" stroke-width="0.85"/>
<line x1="393.2" y1="73.85" x2="395.3" y2="73.85" stroke="#262626" stroke-width="0.85"/>
<line x1="679.5" y1="73.85" x2="677.4" y2="73.85" stroke="#262626" stroke-width="0.85"/>
<line x1="393.2" y1="72.87" x2="396" y2="72.87" stroke="#262626" stroke-width="0.9"/>
<line x1="679.5" y1="72.87" x2="676.7" y2="72.87" stroke="#262626" stroke-width="0.9"/>
<line x1="393.2" y1="66.4" x2="395.3" y2="66.4" stroke="#262626" stroke-width="0.85"/>
<line x1="679.5" y1="66.4" x2="677.4" y2="66.4" stroke="#262626" stroke-width="0.85"/>
<line x1="393.2" y1="62.62" x2="395.3" y2="62.62" stroke="#262626" stroke-width="0.85"/>
<line x1="679.5" y1="62.62" x2="677.4" y2="62.62" stroke="#262626" stroke-width="0.85"/>
<line x1="393.2" y1="59.93" x2="395.3" y2="59.93" stroke="#262626" stroke-width="0.85"/>
<line x1="679.5" y1="59.93" x2="677.4" y2="59.93" stroke="#262626" stroke-width="0.85"/>
<line x1="393.2" y1="57.85" x2="395.3" y2="57.85" stroke="#262626" stroke-width="0.85"/>
<line x1="679.5" y1="57.85" x2="677.4" y2="57.85" stroke="#262626" stroke-width="0.85"/>
<line x1="393.2" y1="56.15" x2="395.3" y2="56.15" stroke="#262626" stroke-width="0.85"/>
<line x1="679.5" y1="56.15" x2="677.4" y2="56.15" stroke="#262626" stroke-width="0.85"/>
<line x1="393.2" y1="54.71" x2="395.3" y2="54.71" stroke="#262626" stroke-width="0.85"/>
<line x1="679.5" y1="54.71" x2="677.4" y2="54.71" stroke="#262626" stroke-width="0.85"/>
<line x1="393.2" y1="53.46" x2="395.3" y2="53.46" stroke="#262626" stroke-width="0.85"/>
<line x1="679.5" y1="53.46" x2="677.4" y2="53.46" stroke="#262626" stroke-width="0.85"/>
<line x1="393.2" y1="52.36" x2="395.3" y2="52.36" stroke="#262626" stroke-width="0.85"/>
<line x1="679.5" y1="52.36" x2="677.4" y2="52.36" stroke="#262626" stroke-width="0.85"/>
<line x1="393.2" y1="51.38" x2="396" y2="51.38" stroke="#262626" stroke-width="0.9"/>
<line x1="679.5" y1="51.38" x2="676.7" y2="51.38" stroke="#262626" stroke-width="0.9"/>
<text transform="translate(385.2 56.63) scale(0.76 1)" font-size="10" text-anchor="end" fill="#262626" stroke="#262626" stroke-width="0.28">10</text>
<text transform="translate(389.9 51.68) scale(0.75 1)" font-size="8.4" text-anchor="end" fill="#262626" stroke="#262626" stroke-width="0.28">4</text>
<line x1="393.2" y1="44.91" x2="395.3" y2="44.91" stroke="#262626" stroke-width="0.85"/>
<line x1="679.5" y1="44.91" x2="677.4" y2="44.91" stroke="#262626" stroke-width="0.85"/>
<line x1="393.2" y1="41.13" x2="395.3" y2="41.13" stroke="#262626" stroke-width="0.85"/>
<line x1="679.5" y1="41.13" x2="677.4" y2="41.13" stroke="#262626" stroke-width="0.85"/>
<line x1="393.2" y1="38.44" x2="395.3" y2="38.44" stroke="#262626" stroke-width="0.85"/>
<line x1="679.5" y1="38.44" x2="677.4" y2="38.44" stroke="#262626" stroke-width="0.85"/>
<line x1="393.2" y1="36.36" x2="395.3" y2="36.36" stroke="#262626" stroke-width="0.85"/>
<line x1="679.5" y1="36.36" x2="677.4" y2="36.36" stroke="#262626" stroke-width="0.85"/>
<line x1="393.2" y1="34.66" x2="395.3" y2="34.66" stroke="#262626" stroke-width="0.85"/>
<line x1="679.5" y1="34.66" x2="677.4" y2="34.66" stroke="#262626" stroke-width="0.85"/>
<line x1="393.2" y1="33.22" x2="395.3" y2="33.22" stroke="#262626" stroke-width="0.85"/>
<line x1="679.5" y1="33.22" x2="677.4" y2="33.22" stroke="#262626" stroke-width="0.85"/>
<line x1="393.2" y1="31.97" x2="395.3" y2="31.97" stroke="#262626" stroke-width="0.85"/>
<line x1="679.5" y1="31.97" x2="677.4" y2="31.97" stroke="#262626" stroke-width="0.85"/>
<line x1="393.2" y1="30.87" x2="395.3" y2="30.87" stroke="#262626" stroke-width="0.85"/>
<line x1="679.5" y1="30.87" x2="677.4" y2="30.87" stroke="#262626" stroke-width="0.85"/>
<line x1="393.2" y1="29.89" x2="396" y2="29.89" stroke="#262626" stroke-width="0.9"/>
<line x1="679.5" y1="29.89" x2="676.7" y2="29.89" stroke="#262626" stroke-width="0.9"/>
<line x1="393.2" y1="23.42" x2="395.3" y2="23.42" stroke="#262626" stroke-width="0.85"/>
<line x1="679.5" y1="23.42" x2="677.4" y2="23.42" stroke="#262626" stroke-width="0.85"/>
<line x1="393.2" y1="19.64" x2="395.3" y2="19.64" stroke="#262626" stroke-width="0.85"/>
<line x1="679.5" y1="19.64" x2="677.4" y2="19.64" stroke="#262626" stroke-width="0.85"/>
<line x1="393.2" y1="16.95" x2="395.3" y2="16.95" stroke="#262626" stroke-width="0.85"/>
<line x1="679.5" y1="16.95" x2="677.4" y2="16.95" stroke="#262626" stroke-width="0.85"/>
<line x1="393.2" y1="14.87" x2="395.3" y2="14.87" stroke="#262626" stroke-width="0.85"/>
<line x1="679.5" y1="14.87" x2="677.4" y2="14.87" stroke="#262626" stroke-width="0.85"/>
<line x1="393.2" y1="13.17" x2="395.3" y2="13.17" stroke="#262626" stroke-width="0.85"/>
<line x1="679.5" y1="13.17" x2="677.4" y2="13.17" stroke="#262626" stroke-width="0.85"/>
<line x1="393.2" y1="11.73" x2="395.3" y2="11.73" stroke="#262626" stroke-width="0.85"/>
<line x1="679.5" y1="11.73" x2="677.4" y2="11.73" stroke="#262626" stroke-width="0.85"/>
<line x1="393.2" y1="10.48" x2="395.3" y2="10.48" stroke="#262626" stroke-width="0.85"/>
<line x1="679.5" y1="10.48" x2="677.4" y2="10.48" stroke="#262626" stroke-width="0.85"/>
<line x1="393.2" y1="9.38" x2="395.3" y2="9.38" stroke="#262626" stroke-width="0.85"/>
<line x1="679.5" y1="9.38" x2="677.4" y2="9.38" stroke="#262626" stroke-width="0.85"/>
<line x1="393.2" y1="8.4" x2="396" y2="8.4" stroke="#262626" stroke-width="0.9"/>
<line x1="679.5" y1="8.4" x2="676.7" y2="8.4" stroke="#262626" stroke-width="0.9"/>
<text transform="translate(385.2 13.65) scale(0.76 1)" font-size="10" text-anchor="end" fill="#262626" stroke="#262626" stroke-width="0.28">10</text>
<text transform="translate(389.9 8.7) scale(0.75 1)" font-size="8.4" text-anchor="end" fill="#262626" stroke="#262626" stroke-width="0.28">6</text>
<clipPath id="c1"><rect x="393.2" y="8.4" width="286.3" height="258.5"/></clipPath>
<g clip-path="url(#c1)" fill="none" stroke-linejoin="round">
<polyline points="393.77,137.34 394.35,72.87 394.92,102.25 395.49,104.59 396.06,106.84 396.64,108.99 397.21,111.04 397.78,113.02 398.35,114.92 398.93,116.76 399.5,118.53 400.07,120.24 400.64,121.91 401.22,123.52 401.79,125.09 402.36,126.61 402.93,128.1 403.51,129.56 404.08,130.98 404.65,132.38 405.22,133.75 405.8,135.09 406.37,136.41 406.94,137.72 407.51,139 408.09,140.27 408.66,141.52 409.23,142.75 409.81,143.97 410.38,145.18 410.95,146.38 411.52,147.57 412.1,148.75 412.67,149.92 413.24,151.08 413.81,152.24 414.39,153.39 414.96,154.53 415.53,155.67 416.1,156.8 416.68,157.92 417.25,159.05 417.82,160.17 418.39,161.28 418.97,162.39 419.54,163.5 420.11,164.61 420.68,165.71 421.26,166.81 421.83,167.91 422.4,169.01 422.98,170.1 423.55,171.19 424.12,172.29 424.69,173.38 425.27,174.47 425.84,175.55 426.41,176.64 426.98,177.73 427.56,178.81 428.13,179.89 428.7,180.98 429.27,182.06 429.85,183.14 430.42,184.22 430.99,185.3 431.56,186.38 432.14,187.46 432.71,188.54 433.28,189.62 433.85,190.7 434.43,191.78 435,192.85 435.57,193.93 436.14,195.01 436.72,196.09 437.29,197.16 437.86,198.24 438.44,199.32 439.01,200.39 439.58,201.47 440.15,202.55 440.73,203.62 441.3,204.7 441.87,205.77 442.44,206.85 443.02,207.92 443.59,209 444.16,210.07 444.73,211.15 445.31,212.22 445.88,213.3 446.45,214.38 447.02,215.45 447.6,216.53 448.17,217.6 448.74,218.67 449.31,219.75 449.89,220.82 450.46,221.9 451.03,222.97 451.61,224.05 452.18,225.12 452.75,226.2 453.32,227.27 453.9,228.35 454.47,229.42 455.04,230.5 455.61,231.57 456.19,232.65 456.76,233.72 457.33,234.8 457.9,235.87 458.48,236.95 459.05,238.02 459.62,239.09 460.19,240.17 460.77,241.24 461.34,242.32 461.91,243.39 462.48,244.47 463.06,245.54 463.63,246.62 464.2,247.69 464.77,248.77 465.35,249.84 465.92,250.91 466.49,251.99 467.07,253.06 467.64,254.14 468.21,255.21 468.78,256.29 469.36,257.36 469.93,258.44 470.5,259.51 471.07,260.58 471.65,261.66 472.22,262.73 472.79,263.81 473.36,264.88 473.94,265.96 474.51,267.03" stroke="#ff0000" stroke-width="1.45"/>
<polyline points="393.43,137.34 393.94,38.49 394.92,58.26" stroke="#0000ff" stroke-width="1.9" stroke-dasharray="3.6 0.7"/>
<polyline points="393.77,137.34 394.35,38.49 394.92,58.26 515.16,266.28 516.88,269.25" stroke="#0000ff" stroke-width="1.6" stroke-dasharray="4.7 1.15 2.7 1.15"/>
<polyline points="393.43,137.34 393.94,21.94 394.92,49.23" stroke="#a08432" stroke-width="1.9" stroke-dasharray="3.6 0.7"/>
<polyline points="393.77,137.34 394.35,21.94 394.92,49.23 653.16,266.28 654.88,267.72" stroke="#a08432" stroke-width="1.6" stroke-dasharray="4.7 1.15 2.7 1.15"/>
</g>
<text transform="translate(530.35 291.9) scale(0.83 1)" font-size="10.1" text-anchor="middle" fill="#262626" stroke="#262626" stroke-width="0.28">Number of iterations</text>
<text transform="translate(371.2 137.55) rotate(-90)" font-size="10.6" text-anchor="middle" fill="#262626" font-family='"Liberation Serif", serif' font-style="italic" stroke="#262626" stroke-width="0.4">e<tspan font-size="6.5" dy="1.6">i</tspan></text>
<rect x="627.4" y="12.4" width="46.5" height="34.6" fill="#fff" stroke="#262626" stroke-width="0.8"/>
<line x1="629.2" y1="19.15" x2="643.7" y2="19.15" stroke="#ff0000" stroke-width="1.6"/>
<text transform="translate(644.9 22.25) scale(0.81 1)" font-size="8.4" text-anchor="start" fill="#111" stroke="#111" stroke-width="0.28">YAS Alg</text>
<line x1="629.2" y1="30" x2="643.7" y2="30" stroke="#0000ff" stroke-width="1.6" stroke-dasharray="4.9 1.1 2.7 1.2"/>
<text transform="translate(644.9 33.1) scale(0.81 1)" font-size="8.4" text-anchor="start" fill="#111" stroke="#111" stroke-width="0.28">BCV Alg</text>
<line x1="629.2" y1="40.85" x2="643.7" y2="40.85" stroke="#a08432" stroke-width="1.6" stroke-dasharray="4.9 1.1 2.7 1.2"/>
<text transform="translate(644.9 43.95) scale(0.81 1)" font-size="8.4" text-anchor="start" fill="#111" stroke="#111" stroke-width="0.28">BSV Alg</text>
</g>
<line x1="16.5" y1="552.01" x2="303.8" y2="552.01" stroke="#e2e2e2" stroke-width="0.9"/>
<line x1="16.5" y1="519.77" x2="303.8" y2="519.77" stroke="#e2e2e2" stroke-width="0.9"/>
<line x1="16.5" y1="487.54" x2="303.8" y2="487.54" stroke="#e2e2e2" stroke-width="0.9"/>
<line x1="16.5" y1="455.3" x2="303.8" y2="455.3" stroke="#e2e2e2" stroke-width="0.9"/>
<line x1="16.5" y1="423.06" x2="303.8" y2="423.06" stroke="#e2e2e2" stroke-width="0.9"/>
<line x1="16.5" y1="390.83" x2="303.8" y2="390.83" stroke="#e2e2e2" stroke-width="0.9"/>
<line x1="16.5" y1="358.59" x2="303.8" y2="358.59" stroke="#e2e2e2" stroke-width="0.9"/>
<line x1="94.7" y1="326.35" x2="94.7" y2="584.25" stroke="#e2e2e2" stroke-width="0.7"/>
<line x1="159.7" y1="326.35" x2="159.7" y2="584.25" stroke="#e2e2e2" stroke-width="0.7"/>
<line x1="224.7" y1="326.35" x2="224.7" y2="584.25" stroke="#e2e2e2" stroke-width="0.7"/>
<rect x="68.6" y="534.28" width="52.2" height="49.97" fill="#0072BD" stroke="#111" stroke-width="0.9"/>
<rect x="68.6" y="508.75" width="52.2" height="25.53" fill="#D95319" stroke="#111" stroke-width="0.9"/>
<text transform="translate(94.4 507.5) scale(0.65 1)" font-size="5.7" text-anchor="middle" fill="#111" stroke="#111" stroke-width="0.28">79.2</text>
<text transform="translate(94.4 540.06) scale(0.65 1)" font-size="5.7" text-anchor="middle" fill="#111" stroke="#111" stroke-width="0.28">155</text>
<rect x="133.6" y="511.72" width="52.2" height="72.53" fill="#0072BD" stroke="#111" stroke-width="0.9"/>
<rect x="133.6" y="474.58" width="52.2" height="37.14" fill="#D95319" stroke="#111" stroke-width="0.9"/>
<text transform="translate(159.4 473.32) scale(0.65 1)" font-size="5.7" text-anchor="middle" fill="#111" stroke="#111" stroke-width="0.28">115.2</text>
<text transform="translate(159.4 517.49) scale(0.65 1)" font-size="5.7" text-anchor="middle" fill="#111" stroke="#111" stroke-width="0.28">225</text>
<rect x="198.6" y="432.41" width="52.2" height="151.84" fill="#0072BD" stroke="#111" stroke-width="0.9"/>
<rect x="198.6" y="354.78" width="52.2" height="77.63" fill="#D95319" stroke="#111" stroke-width="0.9"/>
<text transform="translate(224.4 353.53) scale(0.65 1)" font-size="5.7" text-anchor="middle" fill="#111" stroke="#111" stroke-width="0.28">240.8</text>
<text transform="translate(224.4 438.19) scale(0.65 1)" font-size="5.7" text-anchor="middle" fill="#111" stroke="#111" stroke-width="0.28">471</text>
<rect x="16.5" y="326.35" width="287.3" height="257.9" fill="none" stroke="#262626" stroke-width="0.9"/>
<line x1="16.5" y1="584.25" x2="19.5" y2="584.25" stroke="#262626" stroke-width="1"/>
<line x1="303.8" y1="584.25" x2="300.8" y2="584.25" stroke="#262626" stroke-width="1"/>
<text transform="translate(14.1 586.7) scale(0.56 1)" font-size="6.8" text-anchor="end" fill="#262626" stroke="#262626" stroke-width="0.28">0</text>
<line x1="16.5" y1="552.01" x2="19.5" y2="552.01" stroke="#262626" stroke-width="1"/>
<line x1="303.8" y1="552.01" x2="300.8" y2="552.01" stroke="#262626" stroke-width="1"/>
<text transform="translate(14.1 554.46) scale(0.56 1)" font-size="6.8" text-anchor="end" fill="#262626" stroke="#262626" stroke-width="0.28">100</text>
<line x1="16.5" y1="519.77" x2="19.5" y2="519.77" stroke="#262626" stroke-width="1"/>
<line x1="303.8" y1="519.77" x2="300.8" y2="519.77" stroke="#262626" stroke-width="1"/>
<text transform="translate(14.1 522.23) scale(0.56 1)" font-size="6.8" text-anchor="end" fill="#262626" stroke="#262626" stroke-width="0.28">200</text>
<line x1="16.5" y1="487.54" x2="19.5" y2="487.54" stroke="#262626" stroke-width="1"/>
<line x1="303.8" y1="487.54" x2="300.8" y2="487.54" stroke="#262626" stroke-width="1"/>
<text transform="translate(14.1 489.99) scale(0.56 1)" font-size="6.8" text-anchor="end" fill="#262626" stroke="#262626" stroke-width="0.28">300</text>
<line x1="16.5" y1="455.3" x2="19.5" y2="455.3" stroke="#262626" stroke-width="1"/>
<line x1="303.8" y1="455.3" x2="300.8" y2="455.3" stroke="#262626" stroke-width="1"/>
<text transform="translate(14.1 457.75) scale(0.56 1)" font-size="6.8" text-anchor="end" fill="#262626" stroke="#262626" stroke-width="0.28">400</text>
<line x1="16.5" y1="423.06" x2="19.5" y2="423.06" stroke="#262626" stroke-width="1"/>
<line x1="303.8" y1="423.06" x2="300.8" y2="423.06" stroke="#262626" stroke-width="1"/>
<text transform="translate(14.1 425.51) scale(0.56 1)" font-size="6.8" text-anchor="end" fill="#262626" stroke="#262626" stroke-width="0.28">500</text>
<line x1="16.5" y1="390.83" x2="19.5" y2="390.83" stroke="#262626" stroke-width="1"/>
<line x1="303.8" y1="390.83" x2="300.8" y2="390.83" stroke="#262626" stroke-width="1"/>
<text transform="translate(14.1 393.28) scale(0.56 1)" font-size="6.8" text-anchor="end" fill="#262626" stroke="#262626" stroke-width="0.28">600</text>
<line x1="16.5" y1="358.59" x2="19.5" y2="358.59" stroke="#262626" stroke-width="1"/>
<line x1="303.8" y1="358.59" x2="300.8" y2="358.59" stroke="#262626" stroke-width="1"/>
<text transform="translate(14.1 361.04) scale(0.56 1)" font-size="6.8" text-anchor="end" fill="#262626" stroke="#262626" stroke-width="0.28">700</text>
<line x1="16.5" y1="326.35" x2="19.5" y2="326.35" stroke="#262626" stroke-width="1"/>
<line x1="303.8" y1="326.35" x2="300.8" y2="326.35" stroke="#262626" stroke-width="1"/>
<text transform="translate(14.1 328.8) scale(0.56 1)" font-size="6.8" text-anchor="end" fill="#262626" stroke="#262626" stroke-width="0.28">800</text>
<line x1="94.7" y1="584.25" x2="94.7" y2="579.25" stroke="#262626" stroke-width="0.75"/>
<line x1="94.7" y1="326.35" x2="94.7" y2="331.35" stroke="#262626" stroke-width="0.75"/>
<text transform="translate(94.5 593.25) scale(0.66 1)" font-size="6.3" text-anchor="middle" fill="#262626" stroke="#262626" stroke-width="0.28">YAS Alg</text>
<line x1="159.7" y1="584.25" x2="159.7" y2="579.25" stroke="#262626" stroke-width="0.75"/>
<line x1="159.7" y1="326.35" x2="159.7" y2="331.35" stroke="#262626" stroke-width="0.75"/>
<text transform="translate(159.5 593.25) scale(0.66 1)" font-size="6.3" text-anchor="middle" fill="#262626" stroke="#262626" stroke-width="0.28">BCV Alg</text>
<line x1="224.7" y1="584.25" x2="224.7" y2="579.25" stroke="#262626" stroke-width="0.75"/>
<line x1="224.7" y1="326.35" x2="224.7" y2="331.35" stroke="#262626" stroke-width="0.75"/>
<text transform="translate(224.5 593.25) scale(0.66 1)" font-size="6.3" text-anchor="middle" fill="#262626" stroke="#262626" stroke-width="0.28">BSV Alg</text>
<text transform="translate(158.25 602.65) scale(0.65 1)" font-size="6.6" text-anchor="middle" fill="#262626" stroke="#262626" stroke-width="0.28">Algorithms</text>
<text transform="translate(5.7 461.5) rotate(-90) scale(1 0.65)" font-size="7.06" text-anchor="middle" fill="#262626" stroke="#262626" stroke-width="0.28">Number of Iterations / CPU Time</text>
<text transform="translate(153.45 323.3) scale(0.65 1)" font-size="6.4" text-anchor="middle" fill="#000" font-weight="bold" stroke="#000" stroke-width="0.25">Algorithm Performance Comparison</text>
<rect x="19.3" y="331.6" width="50.8" height="16.9" fill="#fff" stroke="#262626" stroke-width="0.8"/>
<rect x="20.8" y="333.8" width="12" height="5.3" fill="#0072BD" stroke="#111" stroke-width="0.6"/>
<rect x="20.8" y="341.1" width="12" height="5.2" fill="#D95319" stroke="#111" stroke-width="0.6"/>
<text transform="translate(33.3 339.2) scale(0.56 1)" font-size="6.2" text-anchor="start" fill="#111" stroke="#111" stroke-width="0.28">Number of Iterations</text>
<text transform="translate(33.3 346.4) scale(0.56 1)" font-size="6.2" text-anchor="start" fill="#111" stroke="#111" stroke-width="0.28">CPU Time/s</text>
<g>
<g stroke="#fafafa" stroke-width="0.8" opacity="1">
<line x1="396.06" y1="326.4" x2="396.06" y2="584.3"/>
<line x1="398.93" y1="326.4" x2="398.93" y2="584.3"/>
<line x1="401.79" y1="326.4" x2="401.79" y2="584.3"/>
<line x1="404.65" y1="326.4" x2="404.65" y2="584.3"/>
<line x1="407.51" y1="326.4" x2="407.51" y2="584.3"/>
<line x1="410.38" y1="326.4" x2="410.38" y2="584.3"/>
<line x1="413.24" y1="326.4" x2="413.24" y2="584.3"/>
<line x1="416.1" y1="326.4" x2="416.1" y2="584.3"/>
<line x1="418.97" y1="326.4" x2="418.97" y2="584.3"/>
<line x1="424.69" y1="326.4" x2="424.69" y2="584.3"/>
<line x1="427.56" y1="326.4" x2="427.56" y2="584.3"/>
<line x1="430.42" y1="326.4" x2="430.42" y2="584.3"/>
<line x1="433.28" y1="326.4" x2="433.28" y2="584.3"/>
<line x1="436.14" y1="326.4" x2="436.14" y2="584.3"/>
<line x1="439.01" y1="326.4" x2="439.01" y2="584.3"/>
<line x1="441.87" y1="326.4" x2="441.87" y2="584.3"/>
<line x1="444.73" y1="326.4" x2="444.73" y2="584.3"/>
<line x1="447.6" y1="326.4" x2="447.6" y2="584.3"/>
<line x1="453.32" y1="326.4" x2="453.32" y2="584.3"/>
<line x1="456.19" y1="326.4" x2="456.19" y2="584.3"/>
<line x1="459.05" y1="326.4" x2="459.05" y2="584.3"/>
<line x1="461.91" y1="326.4" x2="461.91" y2="584.3"/>
<line x1="464.77" y1="326.4" x2="464.77" y2="584.3"/>
<line x1="467.64" y1="326.4" x2="467.64" y2="584.3"/>
<line x1="470.5" y1="326.4" x2="470.5" y2="584.3"/>
<line x1="473.36" y1="326.4" x2="473.36" y2="584.3"/>
<line x1="476.23" y1="326.4" x2="476.23" y2="584.3"/>
<line x1="481.95" y1="326.4" x2="481.95" y2="584.3"/>
<line x1="484.82" y1="326.4" x2="484.82" y2="584.3"/>
<line x1="487.68" y1="326.4" x2="487.68" y2="584.3"/>
<line x1="490.54" y1="326.4" x2="490.54" y2="584.3"/>
<line x1="493.4" y1="326.4" x2="493.4" y2="584.3"/>
<line x1="496.27" y1="326.4" x2="496.27" y2="584.3"/>
<line x1="499.13" y1="326.4" x2="499.13" y2="584.3"/>
<line x1="501.99" y1="326.4" x2="501.99" y2="584.3"/>
<line x1="504.86" y1="326.4" x2="504.86" y2="584.3"/>
<line x1="510.58" y1="326.4" x2="510.58" y2="584.3"/>
<line x1="513.45" y1="326.4" x2="513.45" y2="584.3"/>
<line x1="516.31" y1="326.4" x2="516.31" y2="584.3"/>
<line x1="519.17" y1="326.4" x2="519.17" y2="584.3"/>
<line x1="522.03" y1="326.4" x2="522.03" y2="584.3"/>
<line x1="524.9" y1="326.4" x2="524.9" y2="584.3"/>
<line x1="527.76" y1="326.4" x2="527.76" y2="584.3"/>
<line x1="530.62" y1="326.4" x2="530.62" y2="584.3"/>
<line x1="533.49" y1="326.4" x2="533.49" y2="584.3"/>
<line x1="539.21" y1="326.4" x2="539.21" y2="584.3"/>
<line x1="542.08" y1="326.4" x2="542.08" y2="584.3"/>
<line x1="544.94" y1="326.4" x2="544.94" y2="584.3"/>
<line x1="547.8" y1="326.4" x2="547.8" y2="584.3"/>
<line x1="550.66" y1="326.4" x2="550.66" y2="584.3"/>
<line x1="553.53" y1="326.4" x2="553.53" y2="584.3"/>
<line x1="556.39" y1="326.4" x2="556.39" y2="584.3"/>
<line x1="559.25" y1="326.4" x2="559.25" y2="584.3"/>
<line x1="562.12" y1="326.4" x2="562.12" y2="584.3"/>
<line x1="567.84" y1="326.4" x2="567.84" y2="584.3"/>
<line x1="570.71" y1="326.4" x2="570.71" y2="584.3"/>
<line x1="573.57" y1="326.4" x2="573.57" y2="584.3"/>
<line x1="576.43" y1="326.4" x2="576.43" y2="584.3"/>
<line x1="579.29" y1="326.4" x2="579.29" y2="584.3"/>
<line x1="582.16" y1="326.4" x2="582.16" y2="584.3"/>
<line x1="585.02" y1="326.4" x2="585.02" y2="584.3"/>
<line x1="587.88" y1="326.4" x2="587.88" y2="584.3"/>
<line x1="590.75" y1="326.4" x2="590.75" y2="584.3"/>
<line x1="596.47" y1="326.4" x2="596.47" y2="584.3"/>
<line x1="599.34" y1="326.4" x2="599.34" y2="584.3"/>
<line x1="602.2" y1="326.4" x2="602.2" y2="584.3"/>
<line x1="605.06" y1="326.4" x2="605.06" y2="584.3"/>
<line x1="607.92" y1="326.4" x2="607.92" y2="584.3"/>
<line x1="610.79" y1="326.4" x2="610.79" y2="584.3"/>
<line x1="613.65" y1="326.4" x2="613.65" y2="584.3"/>
<line x1="616.51" y1="326.4" x2="616.51" y2="584.3"/>
<line x1="619.38" y1="326.4" x2="619.38" y2="584.3"/>
<line x1="625.1" y1="326.4" x2="625.1" y2="584.3"/>
<line x1="627.97" y1="326.4" x2="627.97" y2="584.3"/>
<line x1="630.83" y1="326.4" x2="630.83" y2="584.3"/>
<line x1="633.69" y1="326.4" x2="633.69" y2="584.3"/>
<line x1="636.55" y1="326.4" x2="636.55" y2="584.3"/>
<line x1="639.42" y1="326.4" x2="639.42" y2="584.3"/>
<line x1="642.28" y1="326.4" x2="642.28" y2="584.3"/>
<line x1="645.14" y1="326.4" x2="645.14" y2="584.3"/>
<line x1="648.01" y1="326.4" x2="648.01" y2="584.3"/>
<line x1="653.73" y1="326.4" x2="653.73" y2="584.3"/>
<line x1="656.6" y1="326.4" x2="656.6" y2="584.3"/>
<line x1="659.46" y1="326.4" x2="659.46" y2="584.3"/>
<line x1="662.32" y1="326.4" x2="662.32" y2="584.3"/>
<line x1="665.18" y1="326.4" x2="665.18" y2="584.3"/>
<line x1="668.05" y1="326.4" x2="668.05" y2="584.3"/>
<line x1="670.91" y1="326.4" x2="670.91" y2="584.3"/>
<line x1="673.77" y1="326.4" x2="673.77" y2="584.3"/>
<line x1="676.64" y1="326.4" x2="676.64" y2="584.3"/>
</g>
<g stroke="#d6d6d6" stroke-width="0.7" stroke-dasharray="1.8 1.06" stroke-dashoffset="0.9">
<line x1="393.2" y1="577.81" x2="679.5" y2="577.81"/>
<line x1="393.2" y1="574.03" x2="679.5" y2="574.03"/>
<line x1="393.2" y1="571.34" x2="679.5" y2="571.34"/>
<line x1="393.2" y1="569.26" x2="679.5" y2="569.26"/>
<line x1="393.2" y1="567.56" x2="679.5" y2="567.56"/>
<line x1="393.2" y1="566.12" x2="679.5" y2="566.12"/>
<line x1="393.2" y1="564.87" x2="679.5" y2="564.87"/>
<line x1="393.2" y1="563.77" x2="679.5" y2="563.77"/>
<line x1="393.2" y1="562.79" x2="679.5" y2="562.79"/>
<line x1="393.2" y1="556.32" x2="679.5" y2="556.32"/>
<line x1="393.2" y1="552.54" x2="679.5" y2="552.54"/>
<line x1="393.2" y1="549.85" x2="679.5" y2="549.85"/>
<line x1="393.2" y1="547.77" x2="679.5" y2="547.77"/>
<line x1="393.2" y1="546.07" x2="679.5" y2="546.07"/>
<line x1="393.2" y1="544.63" x2="679.5" y2="544.63"/>
<line x1="393.2" y1="543.38" x2="679.5" y2="543.38"/>
<line x1="393.2" y1="542.28" x2="679.5" y2="542.28"/>
<line x1="393.2" y1="534.83" x2="679.5" y2="534.83"/>
<line x1="393.2" y1="531.05" x2="679.5" y2="531.05"/>
<line x1="393.2" y1="528.36" x2="679.5" y2="528.36"/>
<line x1="393.2" y1="526.28" x2="679.5" y2="526.28"/>
<line x1="393.2" y1="524.58" x2="679.5" y2="524.58"/>
<line x1="393.2" y1="523.14" x2="679.5" y2="523.14"/>
<line x1="393.2" y1="521.89" x2="679.5" y2="521.89"/>
<line x1="393.2" y1="520.79" x2="679.5" y2="520.79"/>
<line x1="393.2" y1="519.81" x2="679.5" y2="519.81"/>
<line x1="393.2" y1="513.34" x2="679.5" y2="513.34"/>
<line x1="393.2" y1="509.56" x2="679.5" y2="509.56"/>
<line x1="393.2" y1="506.87" x2="679.5" y2="506.87"/>
<line x1="393.2" y1="504.79" x2="679.5" y2="504.79"/>
<line x1="393.2" y1="503.09" x2="679.5" y2="503.09"/>
<line x1="393.2" y1="501.65" x2="679.5" y2="501.65"/>
<line x1="393.2" y1="500.4" x2="679.5" y2="500.4"/>
<line x1="393.2" y1="499.3" x2="679.5" y2="499.3"/>
<line x1="393.2" y1="491.85" x2="679.5" y2="491.85"/>
<line x1="393.2" y1="488.07" x2="679.5" y2="488.07"/>
<line x1="393.2" y1="485.38" x2="679.5" y2="485.38"/>
<line x1="393.2" y1="483.3" x2="679.5" y2="483.3"/>
<line x1="393.2" y1="481.6" x2="679.5" y2="481.6"/>
<line x1="393.2" y1="480.16" x2="679.5" y2="480.16"/>
<line x1="393.2" y1="478.91" x2="679.5" y2="478.91"/>
<line x1="393.2" y1="477.81" x2="679.5" y2="477.81"/>
<line x1="393.2" y1="476.83" x2="679.5" y2="476.83"/>
<line x1="393.2" y1="470.36" x2="679.5" y2="470.36"/>
<line x1="393.2" y1="466.58" x2="679.5" y2="466.58"/>
<line x1="393.2" y1="463.89" x2="679.5" y2="463.89"/>
<line x1="393.2" y1="461.81" x2="679.5" y2="461.81"/>
<line x1="393.2" y1="460.11" x2="679.5" y2="460.11"/>
<line x1="393.2" y1="458.67" x2="679.5" y2="458.67"/>
<line x1="393.2" y1="457.42" x2="679.5" y2="457.42"/>
<line x1="393.2" y1="456.32" x2="679.5" y2="456.32"/>
<line x1="393.2" y1="448.87" x2="679.5" y2="448.87"/>
<line x1="393.2" y1="445.09" x2="679.5" y2="445.09"/>
<line x1="393.2" y1="442.4" x2="679.5" y2="442.4"/>
<line x1="393.2" y1="440.32" x2="679.5" y2="440.32"/>
<line x1="393.2" y1="438.62" x2="679.5" y2="438.62"/>
<line x1="393.2" y1="437.18" x2="679.5" y2="437.18"/>
<line x1="393.2" y1="435.93" x2="679.5" y2="435.93"/>
<line x1="393.2" y1="434.83" x2="679.5" y2="434.83"/>
<line x1="393.2" y1="433.85" x2="679.5" y2="433.85"/>
<line x1="393.2" y1="427.38" x2="679.5" y2="427.38"/>
<line x1="393.2" y1="423.6" x2="679.5" y2="423.6"/>
<line x1="393.2" y1="420.91" x2="679.5" y2="420.91"/>
<line x1="393.2" y1="418.83" x2="679.5" y2="418.83"/>
<line x1="393.2" y1="417.13" x2="679.5" y2="417.13"/>
<line x1="393.2" y1="415.69" x2="679.5" y2="415.69"/>
<line x1="393.2" y1="414.44" x2="679.5" y2="414.44"/>
<line x1="393.2" y1="413.34" x2="679.5" y2="413.34"/>
<line x1="393.2" y1="405.89" x2="679.5" y2="405.89"/>
<line x1="393.2" y1="402.11" x2="679.5" y2="402.11"/>
<line x1="393.2" y1="399.42" x2="679.5" y2="399.42"/>
<line x1="393.2" y1="397.34" x2="679.5" y2="397.34"/>
<line x1="393.2" y1="395.64" x2="679.5" y2="395.64"/>
<line x1="393.2" y1="394.2" x2="679.5" y2="394.2"/>
<line x1="393.2" y1="392.95" x2="679.5" y2="392.95"/>
<line x1="393.2" y1="391.85" x2="679.5" y2="391.85"/>
<line x1="393.2" y1="390.87" x2="679.5" y2="390.87"/>
<line x1="393.2" y1="384.4" x2="679.5" y2="384.4"/>
<line x1="393.2" y1="380.62" x2="679.5" y2="380.62"/>
<line x1="393.2" y1="377.93" x2="679.5" y2="377.93"/>
<line x1="393.2" y1="375.85" x2="679.5" y2="375.85"/>
<line x1="393.2" y1="374.15" x2="679.5" y2="374.15"/>
<line x1="393.2" y1="372.71" x2="679.5" y2="372.71"/>
<line x1="393.2" y1="371.46" x2="679.5" y2="371.46"/>
<line x1="393.2" y1="370.36" x2="679.5" y2="370.36"/>
<line x1="393.2" y1="362.91" x2="679.5" y2="362.91"/>
<line x1="393.2" y1="359.13" x2="679.5" y2="359.13"/>
<line x1="393.2" y1="356.44" x2="679.5" y2="356.44"/>
<line x1="393.2" y1="354.36" x2="679.5" y2="354.36"/>
<line x1="393.2" y1="352.66" x2="679.5" y2="352.66"/>
<line x1="393.2" y1="351.22" x2="679.5" y2="351.22"/>
<line x1="393.2" y1="349.97" x2="679.5" y2="349.97"/>
<line x1="393.2" y1="348.87" x2="679.5" y2="348.87"/>
<line x1="393.2" y1="347.89" x2="679.5" y2="347.89"/>
<line x1="393.2" y1="341.42" x2="679.5" y2="341.42"/>
<line x1="393.2" y1="337.64" x2="679.5" y2="337.64"/>
<line x1="393.2" y1="334.95" x2="679.5" y2="334.95"/>
<line x1="393.2" y1="332.87" x2="679.5" y2="332.87"/>
<line x1="393.2" y1="331.17" x2="679.5" y2="331.17"/>
<line x1="393.2" y1="329.73" x2="679.5" y2="329.73"/>
<line x1="393.2" y1="328.48" x2="679.5" y2="328.48"/>
<line x1="393.2" y1="327.38" x2="679.5" y2="327.38"/>
</g>
<line x1="421.83" y1="326.4" x2="421.83" y2="584.3" stroke="#e1e1e1" stroke-width="0.9"/>
<line x1="450.46" y1="326.4" x2="450.46" y2="584.3" stroke="#e1e1e1" stroke-width="0.9"/>
<line x1="479.09" y1="326.4" x2="479.09" y2="584.3" stroke="#e1e1e1" stroke-width="0.9"/>
<line x1="507.72" y1="326.4" x2="507.72" y2="584.3" stroke="#e1e1e1" stroke-width="0.9"/>
<line x1="536.35" y1="326.4" x2="536.35" y2="584.3" stroke="#e1e1e1" stroke-width="0.9"/>
<line x1="564.98" y1="326.4" x2="564.98" y2="584.3" stroke="#e1e1e1" stroke-width="0.9"/>
<line x1="593.61" y1="326.4" x2="593.61" y2="584.3" stroke="#e1e1e1" stroke-width="0.9"/>
<line x1="622.24" y1="326.4" x2="622.24" y2="584.3" stroke="#e1e1e1" stroke-width="0.9"/>
<line x1="650.87" y1="326.4" x2="650.87" y2="584.3" stroke="#e1e1e1" stroke-width="0.9"/>
<line x1="393.2" y1="541.3" x2="679.5" y2="541.3" stroke="#e1e1e1" stroke-width="1"/>
<line x1="393.2" y1="498.32" x2="679.5" y2="498.32" stroke="#e1e1e1" stroke-width="1"/>
<line x1="393.2" y1="455.34" x2="679.5" y2="455.34" stroke="#e1e1e1" stroke-width="1"/>
<line x1="393.2" y1="412.36" x2="679.5" y2="412.36" stroke="#e1e1e1" stroke-width="1"/>
<line x1="393.2" y1="369.38" x2="679.5" y2="369.38" stroke="#e1e1e1" stroke-width="1"/>
<rect x="393.2" y="326.4" width="286.3" height="257.9" fill="none" stroke="#262626" stroke-width="1"/>
<line x1="393.2" y1="584.3" x2="393.2" y2="580.3" stroke="#262626" stroke-width="0.9"/>
<line x1="393.2" y1="326.4" x2="393.2" y2="330.4" stroke="#262626" stroke-width="0.9"/>
<text transform="translate(392 596.8) scale(0.77 1)" font-size="10" text-anchor="middle" fill="#262626" stroke="#262626" stroke-width="0.28">0</text>
<line x1="421.83" y1="584.3" x2="421.83" y2="580.3" stroke="#262626" stroke-width="0.9"/>
<line x1="421.83" y1="326.4" x2="421.83" y2="330.4" stroke="#262626" stroke-width="0.9"/>
<text transform="translate(420.63 596.8) scale(0.77 1)" font-size="10" text-anchor="middle" fill="#262626" stroke="#262626" stroke-width="0.28">50</text>
<line x1="450.46" y1="584.3" x2="450.46" y2="580.3" stroke="#262626" stroke-width="0.9"/>
<line x1="450.46" y1="326.4" x2="450.46" y2="330.4" stroke="#262626" stroke-width="0.9"/>
<text transform="translate(449.26 596.8) scale(0.77 1)" font-size="10" text-anchor="middle" fill="#262626" stroke="#262626" stroke-width="0.28">100</text>
<line x1="479.09" y1="584.3" x2="479.09" y2="580.3" stroke="#262626" stroke-width="0.9"/>
<line x1="479.09" y1="326.4" x2="479.09" y2="330.4" stroke="#262626" stroke-width="0.9"/>
<text transform="translate(477.89 596.8) scale(0.77 1)" font-size="10" text-anchor="middle" fill="#262626" stroke="#262626" stroke-width="0.28">150</text>
<line x1="507.72" y1="584.3" x2="507.72" y2="580.3" stroke="#262626" stroke-width="0.9"/>
<line x1="507.72" y1="326.4" x2="507.72" y2="330.4" stroke="#262626" stroke-width="0.9"/>
<text transform="translate(506.52 596.8) scale(0.77 1)" font-size="10" text-anchor="middle" fill="#262626" stroke="#262626" stroke-width="0.28">200</text>
<line x1="536.35" y1="584.3" x2="536.35" y2="580.3" stroke="#262626" stroke-width="0.9"/>
<line x1="536.35" y1="326.4" x2="536.35" y2="330.4" stroke="#262626" stroke-width="0.9"/>
<text transform="translate(535.15 596.8) scale(0.77 1)" font-size="10" text-anchor="middle" fill="#262626" stroke="#262626" stroke-width="0.28">250</text>
<line x1="564.98" y1="584.3" x2="564.98" y2="580.3" stroke="#262626" stroke-width="0.9"/>
<line x1="564.98" y1="326.4" x2="564.98" y2="330.4" stroke="#262626" stroke-width="0.9"/>
<text transform="translate(563.78 596.8) scale(0.77 1)" font-size="10" text-anchor="middle" fill="#262626" stroke="#262626" stroke-width="0.28">300</text>
<line x1="593.61" y1="584.3" x2="593.61" y2="580.3" stroke="#262626" stroke-width="0.9"/>
<line x1="593.61" y1="326.4" x2="593.61" y2="330.4" stroke="#262626" stroke-width="0.9"/>
<text transform="translate(592.41 596.8) scale(0.77 1)" font-size="10" text-anchor="middle" fill="#262626" stroke="#262626" stroke-width="0.28">350</text>
<line x1="622.24" y1="584.3" x2="622.24" y2="580.3" stroke="#262626" stroke-width="0.9"/>
<line x1="622.24" y1="326.4" x2="622.24" y2="330.4" stroke="#262626" stroke-width="0.9"/>
<text transform="translate(621.04 596.8) scale(0.77 1)" font-size="10" text-anchor="middle" fill="#262626" stroke="#262626" stroke-width="0.28">400</text>
<line x1="650.87" y1="584.3" x2="650.87" y2="580.3" stroke="#262626" stroke-width="0.9"/>
<line x1="650.87" y1="326.4" x2="650.87" y2="330.4" stroke="#262626" stroke-width="0.9"/>
<text transform="translate(649.67 596.8) scale(0.77 1)" font-size="10" text-anchor="middle" fill="#262626" stroke="#262626" stroke-width="0.28">450</text>
<line x1="679.5" y1="584.3" x2="679.5" y2="580.3" stroke="#262626" stroke-width="0.9"/>
<line x1="679.5" y1="326.4" x2="679.5" y2="330.4" stroke="#262626" stroke-width="0.9"/>
<text transform="translate(678.3 596.8) scale(0.77 1)" font-size="10" text-anchor="middle" fill="#262626" stroke="#262626" stroke-width="0.28">500</text>
<line x1="393.2" y1="584.28" x2="396" y2="584.28" stroke="#262626" stroke-width="0.9"/>
<line x1="679.5" y1="584.28" x2="676.7" y2="584.28" stroke="#262626" stroke-width="0.9"/>
<text transform="translate(383.2 589.53) scale(0.76 1)" font-size="10" text-anchor="end" fill="#262626" stroke="#262626" stroke-width="0.28">10</text>
<text transform="translate(389.9 584.58) scale(0.75 1)" font-size="8.4" text-anchor="end" fill="#262626" stroke="#262626" stroke-width="0.28">-6</text>
<line x1="393.2" y1="577.81" x2="395.3" y2="577.81" stroke="#262626" stroke-width="0.85"/>
<line x1="679.5" y1="577.81" x2="677.4" y2="577.81" stroke="#262626" stroke-width="0.85"/>
<line x1="393.2" y1="574.03" x2="395.3" y2="574.03" stroke="#262626" stroke-width="0.85"/>
<line x1="679.5" y1="574.03" x2="677.4" y2="574.03" stroke="#262626" stroke-width="0.85"/>
<line x1="393.2" y1="571.34" x2="395.3" y2="571.34" stroke="#262626" stroke-width="0.85"/>
<line x1="679.5" y1="571.34" x2="677.4" y2="571.34" stroke="#262626" stroke-width="0.85"/>
<line x1="393.2" y1="569.26" x2="395.3" y2="569.26" stroke="#262626" stroke-width="0.85"/>
<line x1="679.5" y1="569.26" x2="677.4" y2="569.26" stroke="#262626" stroke-width="0.85"/>
<line x1="393.2" y1="567.56" x2="395.3" y2="567.56" stroke="#262626" stroke-width="0.85"/>
<line x1="679.5" y1="567.56" x2="677.4" y2="567.56" stroke="#262626" stroke-width="0.85"/>
<line x1="393.2" y1="566.12" x2="395.3" y2="566.12" stroke="#262626" stroke-width="0.85"/>
<line x1="679.5" y1="566.12" x2="677.4" y2="566.12" stroke="#262626" stroke-width="0.85"/>
<line x1="393.2" y1="564.87" x2="395.3" y2="564.87" stroke="#262626" stroke-width="0.85"/>
<line x1="679.5" y1="564.87" x2="677.4" y2="564.87" stroke="#262626" stroke-width="0.85"/>
<line x1="393.2" y1="563.77" x2="395.3" y2="563.77" stroke="#262626" stroke-width="0.85"/>
<line x1="679.5" y1="563.77" x2="677.4" y2="563.77" stroke="#262626" stroke-width="0.85"/>
<line x1="393.2" y1="562.79" x2="396" y2="562.79" stroke="#262626" stroke-width="0.9"/>
<line x1="679.5" y1="562.79" x2="676.7" y2="562.79" stroke="#262626" stroke-width="0.9"/>
<line x1="393.2" y1="556.32" x2="395.3" y2="556.32" stroke="#262626" stroke-width="0.85"/>
<line x1="679.5" y1="556.32" x2="677.4" y2="556.32" stroke="#262626" stroke-width="0.85"/>
<line x1="393.2" y1="552.54" x2="395.3" y2="552.54" stroke="#262626" stroke-width="0.85"/>
<line x1="679.5" y1="552.54" x2="677.4" y2="552.54" stroke="#262626" stroke-width="0.85"/>
<line x1="393.2" y1="549.85" x2="395.3" y2="549.85" stroke="#262626" stroke-width="0.85"/>
<line x1="679.5" y1="549.85" x2="677.4" y2="549.85" stroke="#262626" stroke-width="0.85"/>
<line x1="393.2" y1="547.77" x2="395.3" y2="547.77" stroke="#262626" stroke-width="0.85"/>
<line x1="679.5" y1="547.77" x2="677.4" y2="547.77" stroke="#262626" stroke-width="0.85"/>
<line x1="393.2" y1="546.07" x2="395.3" y2="546.07" stroke="#262626" stroke-width="0.85"/>
<line x1="679.5" y1="546.07" x2="677.4" y2="546.07" stroke="#262626" stroke-width="0.85"/>
<line x1="393.2" y1="544.63" x2="395.3" y2="544.63" stroke="#262626" stroke-width="0.85"/>
<line x1="679.5" y1="544.63" x2="677.4" y2="544.63" stroke="#262626" stroke-width="0.85"/>
<line x1="393.2" y1="543.38" x2="395.3" y2="543.38" stroke="#262626" stroke-width="0.85"/>
<line x1="679.5" y1="543.38" x2="677.4" y2="543.38" stroke="#262626" stroke-width="0.85"/>
<line x1="393.2" y1="542.28" x2="395.3" y2="542.28" stroke="#262626" stroke-width="0.85"/>
<line x1="679.5" y1="542.28" x2="677.4" y2="542.28" stroke="#262626" stroke-width="0.85"/>
<line x1="393.2" y1="541.3" x2="396" y2="541.3" stroke="#262626" stroke-width="0.9"/>
<line x1="679.5" y1="541.3" x2="676.7" y2="541.3" stroke="#262626" stroke-width="0.9"/>
<text transform="translate(383.2 546.55) scale(0.76 1)" font-size="10" text-anchor="end" fill="#262626" stroke="#262626" stroke-width="0.28">10</text>
<text transform="translate(389.9 541.6) scale(0.75 1)" font-size="8.4" text-anchor="end" fill="#262626" stroke="#262626" stroke-width="0.28">-4</text>
<line x1="393.2" y1="534.83" x2="395.3" y2="534.83" stroke="#262626" stroke-width="0.85"/>
<line x1="679.5" y1="534.83" x2="677.4" y2="534.83" stroke="#262626" stroke-width="0.85"/>
<line x1="393.2" y1="531.05" x2="395.3" y2="531.05" stroke="#262626" stroke-width="0.85"/>
<line x1="679.5" y1="531.05" x2="677.4" y2="531.05" stroke="#262626" stroke-width="0.85"/>
<line x1="393.2" y1="528.36" x2="395.3" y2="528.36" stroke="#262626" stroke-width="0.85"/>
<line x1="679.5" y1="528.36" x2="677.4" y2="528.36" stroke="#262626" stroke-width="0.85"/>
<line x1="393.2" y1="526.28" x2="395.3" y2="526.28" stroke="#262626" stroke-width="0.85"/>
<line x1="679.5" y1="526.28" x2="677.4" y2="526.28" stroke="#262626" stroke-width="0.85"/>
<line x1="393.2" y1="524.58" x2="395.3" y2="524.58" stroke="#262626" stroke-width="0.85"/>
<line x1="679.5" y1="524.58" x2="677.4" y2="524.58" stroke="#262626" stroke-width="0.85"/>
<line x1="393.2" y1="523.14" x2="395.3" y2="523.14" stroke="#262626" stroke-width="0.85"/>
<line x1="679.5" y1="523.14" x2="677.4" y2="523.14" stroke="#262626" stroke-width="0.85"/>
<line x1="393.2" y1="521.89" x2="395.3" y2="521.89" stroke="#262626" stroke-width="0.85"/>
<line x1="679.5" y1="521.89" x2="677.4" y2="521.89" stroke="#262626" stroke-width="0.85"/>
<line x1="393.2" y1="520.79" x2="395.3" y2="520.79" stroke="#262626" stroke-width="0.85"/>
<line x1="679.5" y1="520.79" x2="677.4" y2="520.79" stroke="#262626" stroke-width="0.85"/>
<line x1="393.2" y1="519.81" x2="396" y2="519.81" stroke="#262626" stroke-width="0.9"/>
<line x1="679.5" y1="519.81" x2="676.7" y2="519.81" stroke="#262626" stroke-width="0.9"/>
<line x1="393.2" y1="513.34" x2="395.3" y2="513.34" stroke="#262626" stroke-width="0.85"/>
<line x1="679.5" y1="513.34" x2="677.4" y2="513.34" stroke="#262626" stroke-width="0.85"/>
<line x1="393.2" y1="509.56" x2="395.3" y2="509.56" stroke="#262626" stroke-width="0.85"/>
<line x1="679.5" y1="509.56" x2="677.4" y2="509.56" stroke="#262626" stroke-width="0.85"/>
<line x1="393.2" y1="506.87" x2="395.3" y2="506.87" stroke="#262626" stroke-width="0.85"/>
<line x1="679.5" y1="506.87" x2="677.4" y2="506.87" stroke="#262626" stroke-width="0.85"/>
<line x1="393.2" y1="504.79" x2="395.3" y2="504.79" stroke="#262626" stroke-width="0.85"/>
<line x1="679.5" y1="504.79" x2="677.4" y2="504.79" stroke="#262626" stroke-width="0.85"/>
<line x1="393.2" y1="503.09" x2="395.3" y2="503.09" stroke="#262626" stroke-width="0.85"/>
<line x1="679.5" y1="503.09" x2="677.4" y2="503.09" stroke="#262626" stroke-width="0.85"/>
<line x1="393.2" y1="501.65" x2="395.3" y2="501.65" stroke="#262626" stroke-width="0.85"/>
<line x1="679.5" y1="501.65" x2="677.4" y2="501.65" stroke="#262626" stroke-width="0.85"/>
<line x1="393.2" y1="500.4" x2="395.3" y2="500.4" stroke="#262626" stroke-width="0.85"/>
<line x1="679.5" y1="500.4" x2="677.4" y2="500.4" stroke="#262626" stroke-width="0.85"/>
<line x1="393.2" y1="499.3" x2="395.3" y2="499.3" stroke="#262626" stroke-width="0.85"/>
<line x1="679.5" y1="499.3" x2="677.4" y2="499.3" stroke="#262626" stroke-width="0.85"/>
<line x1="393.2" y1="498.32" x2="396" y2="498.32" stroke="#262626" stroke-width="0.9"/>
<line x1="679.5" y1="498.32" x2="676.7" y2="498.32" stroke="#262626" stroke-width="0.9"/>
<text transform="translate(383.2 503.57) scale(0.76 1)" font-size="10" text-anchor="end" fill="#262626" stroke="#262626" stroke-width="0.28">10</text>
<text transform="translate(389.9 498.62) scale(0.75 1)" font-size="8.4" text-anchor="end" fill="#262626" stroke="#262626" stroke-width="0.28">-2</text>
<line x1="393.2" y1="491.85" x2="395.3" y2="491.85" stroke="#262626" stroke-width="0.85"/>
<line x1="679.5" y1="491.85" x2="677.4" y2="491.85" stroke="#262626" stroke-width="0.85"/>
<line x1="393.2" y1="488.07" x2="395.3" y2="488.07" stroke="#262626" stroke-width="0.85"/>
<line x1="679.5" y1="488.07" x2="677.4" y2="488.07" stroke="#262626" stroke-width="0.85"/>
<line x1="393.2" y1="485.38" x2="395.3" y2="485.38" stroke="#262626" stroke-width="0.85"/>
<line x1="679.5" y1="485.38" x2="677.4" y2="485.38" stroke="#262626" stroke-width="0.85"/>
<line x1="393.2" y1="483.3" x2="395.3" y2="483.3" stroke="#262626" stroke-width="0.85"/>
<line x1="679.5" y1="483.3" x2="677.4" y2="483.3" stroke="#262626" stroke-width="0.85"/>
<line x1="393.2" y1="481.6" x2="395.3" y2="481.6" stroke="#262626" stroke-width="0.85"/>
<line x1="679.5" y1="481.6" x2="677.4" y2="481.6" stroke="#262626" stroke-width="0.85"/>
<line x1="393.2" y1="480.16" x2="395.3" y2="480.16" stroke="#262626" stroke-width="0.85"/>
<line x1="679.5" y1="480.16" x2="677.4" y2="480.16" stroke="#262626" stroke-width="0.85"/>
<line x1="393.2" y1="478.91" x2="395.3" y2="478.91" stroke="#262626" stroke-width="0.85"/>
<line x1="679.5" y1="478.91" x2="677.4" y2="478.91" stroke="#262626" stroke-width="0.85"/>
<line x1="393.2" y1="477.81" x2="395.3" y2="477.81" stroke="#262626" stroke-width="0.85"/>
<line x1="679.5" y1="477.81" x2="677.4" y2="477.81" stroke="#262626" stroke-width="0.85"/>
<line x1="393.2" y1="476.83" x2="396" y2="476.83" stroke="#262626" stroke-width="0.9"/>
<line x1="679.5" y1="476.83" x2="676.7" y2="476.83" stroke="#262626" stroke-width="0.9"/>
<line x1="393.2" y1="470.36" x2="395.3" y2="470.36" stroke="#262626" stroke-width="0.85"/>
<line x1="679.5" y1="470.36" x2="677.4" y2="470.36" stroke="#262626" stroke-width="0.85"/>
<line x1="393.2" y1="466.58" x2="395.3" y2="466.58" stroke="#262626" stroke-width="0.85"/>
<line x1="679.5" y1="466.58" x2="677.4" y2="466.58" stroke="#262626" stroke-width="0.85"/>
<line x1="393.2" y1="463.89" x2="395.3" y2="463.89" stroke="#262626" stroke-width="0.85"/>
<line x1="679.5" y1="463.89" x2="677.4" y2="463.89" stroke="#262626" stroke-width="0.85"/>
<line x1="393.2" y1="461.81" x2="395.3" y2="461.81" stroke="#262626" stroke-width="0.85"/>
<line x1="679.5" y1="461.81" x2="677.4" y2="461.81" stroke="#262626" stroke-width="0.85"/>
<line x1="393.2" y1="460.11" x2="395.3" y2="460.11" stroke="#262626" stroke-width="0.85"/>
<line x1="679.5" y1="460.11" x2="677.4" y2="460.11" stroke="#262626" stroke-width="0.85"/>
<line x1="393.2" y1="458.67" x2="395.3" y2="458.67" stroke="#262626" stroke-width="0.85"/>
<line x1="679.5" y1="458.67" x2="677.4" y2="458.67" stroke="#262626" stroke-width="0.85"/>
<line x1="393.2" y1="457.42" x2="395.3" y2="457.42" stroke="#262626" stroke-width="0.85"/>
<line x1="679.5" y1="457.42" x2="677.4" y2="457.42" stroke="#262626" stroke-width="0.85"/>
<line x1="393.2" y1="456.32" x2="395.3" y2="456.32" stroke="#262626" stroke-width="0.85"/>
<line x1="679.5" y1="456.32" x2="677.4" y2="456.32" stroke="#262626" stroke-width="0.85"/>
<line x1="393.2" y1="455.34" x2="396" y2="455.34" stroke="#262626" stroke-width="0.9"/>
<line x1="679.5" y1="455.34" x2="676.7" y2="455.34" stroke="#262626" stroke-width="0.9"/>
<text transform="translate(385.2 460.59) scale(0.76 1)" font-size="10" text-anchor="end" fill="#262626" stroke="#262626" stroke-width="0.28">10</text>
<text transform="translate(389.9 455.64) scale(0.75 1)" font-size="8.4" text-anchor="end" fill="#262626" stroke="#262626" stroke-width="0.28">0</text>
<line x1="393.2" y1="448.87" x2="395.3" y2="448.87" stroke="#262626" stroke-width="0.85"/>
<line x1="679.5" y1="448.87" x2="677.4" y2="448.87" stroke="#262626" stroke-width="0.85"/>
<line x1="393.2" y1="445.09" x2="395.3" y2="445.09" stroke="#262626" stroke-width="0.85"/>
<line x1="679.5" y1="445.09" x2="677.4" y2="445.09" stroke="#262626" stroke-width="0.85"/>
<line x1="393.2" y1="442.4" x2="395.3" y2="442.4" stroke="#262626" stroke-width="0.85"/>
<line x1="679.5" y1="442.4" x2="677.4" y2="442.4" stroke="#262626" stroke-width="0.85"/>
<line x1="393.2" y1="440.32" x2="395.3" y2="440.32" stroke="#262626" stroke-width="0.85"/>
<line x1="679.5" y1="440.32" x2="677.4" y2="440.32" stroke="#262626" stroke-width="0.85"/>
<line x1="393.2" y1="438.62" x2="395.3" y2="438.62" stroke="#262626" stroke-width="0.85"/>
<line x1="679.5" y1="438.62" x2="677.4" y2="438.62" stroke="#262626" stroke-width="0.85"/>
<line x1="393.2" y1="437.18" x2="395.3" y2="437.18" stroke="#262626" stroke-width="0.85"/>
<line x1="679.5" y1="437.18" x2="677.4" y2="437.18" stroke="#262626" stroke-width="0.85"/>
<line x1="393.2" y1="435.93" x2="395.3" y2="435.93" stroke="#262626" stroke-width="0.85"/>
<line x1="679.5" y1="435.93" x2="677.4" y2="435.93" stroke="#262626" stroke-width="0.85"/>
<line x1="393.2" y1="434.83" x2="395.3" y2="434.83" stroke="#262626" stroke-width="0.85"/>
<line x1="679.5" y1="434.83" x2="677.4" y2="434.83" stroke="#262626" stroke-width="0.85"/>
<line x1="393.2" y1="433.85" x2="396" y2="433.85" stroke="#262626" stroke-width="0.9"/>
<line x1="679.5" y1="433.85" x2="676.7" y2="433.85" stroke="#262626" stroke-width="0.9"/>
<line x1="393.2" y1="427.38" x2="395.3" y2="427.38" stroke="#262626" stroke-width="0.85"/>
<line x1="679.5" y1="427.38" x2="677.4" y2="427.38" stroke="#262626" stroke-width="0.85"/>
<line x1="393.2" y1="423.6" x2="395.3" y2="423.6" stroke="#262626" stroke-width="0.85"/>
<line x1="679.5" y1="423.6" x2="677.4" y2="423.6" stroke="#262626" stroke-width="0.85"/>
<line x1="393.2" y1="420.91" x2="395.3" y2="420.91" stroke="#262626" stroke-width="0.85"/>
<line x1="679.5" y1="420.91" x2="677.4" y2="420.91" stroke="#262626" stroke-width="0.85"/>
<line x1="393.2" y1="418.83" x2="395.3" y2="418.83" stroke="#262626" stroke-width="0.85"/>
<line x1="679.5" y1="418.83" x2="677.4" y2="418.83" stroke="#262626" stroke-width="0.85"/>
<line x1="393.2" y1="417.13" x2="395.3" y2="417.13" stroke="#262626" stroke-width="0.85"/>
<line x1="679.5" y1="417.13" x2="677.4" y2="417.13" stroke="#262626" stroke-width="0.85"/>
<line x1="393.2" y1="415.69" x2="395.3" y2="415.69" stroke="#262626" stroke-width="0.85"/>
<line x1="679.5" y1="415.69" x2="677.4" y2="415.69" stroke="#262626" stroke-width="0.85"/>
<line x1="393.2" y1="414.44" x2="395.3" y2="414.44" stroke="#262626" stroke-width="0.85"/>
<line x1="679.5" y1="414.44" x2="677.4" y2="414.44" stroke="#262626" stroke-width="0.85"/>
<line x1="393.2" y1="413.34" x2="395.3" y2="413.34" stroke="#262626" stroke-width="0.85"/>
<line x1="679.5" y1="413.34" x2="677.4" y2="413.34" stroke="#262626" stroke-width="0.85"/>
<line x1="393.2" y1="412.36" x2="396" y2="412.36" stroke="#262626" stroke-width="0.9"/>
<line x1="679.5" y1="412.36" x2="676.7" y2="412.36" stroke="#262626" stroke-width="0.9"/>
<text transform="translate(385.2 417.61) scale(0.76 1)" font-size="10" text-anchor="end" fill="#262626" stroke="#262626" stroke-width="0.28">10</text>
<text transform="translate(389.9 412.66) scale(0.75 1)" font-size="8.4" text-anchor="end" fill="#262626" stroke="#262626" stroke-width="0.28">2</text>
<line x1="393.2" y1="405.89" x2="395.3" y2="405.89" stroke="#262626" stroke-width="0.85"/>
<line x1="679.5" y1="405.89" x2="677.4" y2="405.89" stroke="#262626" stroke-width="0.85"/>
<line x1="393.2" y1="402.11" x2="395.3" y2="402.11" stroke="#262626" stroke-width="0.85"/>
<line x1="679.5" y1="402.11" x2="677.4" y2="402.11" stroke="#262626" stroke-width="0.85"/>
<line x1="393.2" y1="399.42" x2="395.3" y2="399.42" stroke="#262626" stroke-width="0.85"/>
<line x1="679.5" y1="399.42" x2="677.4" y2="399.42" stroke="#262626" stroke-width="0.85"/>
<line x1="393.2" y1="397.34" x2="395.3" y2="397.34" stroke="#262626" stroke-width="0.85"/>
<line x1="679.5" y1="397.34" x2="677.4" y2="397.34" stroke="#262626" stroke-width="0.85"/>
<line x1="393.2" y1="395.64" x2="395.3" y2="395.64" stroke="#262626" stroke-width="0.85"/>
<line x1="679.5" y1="395.64" x2="677.4" y2="395.64" stroke="#262626" stroke-width="0.85"/>
<line x1="393.2" y1="394.2" x2="395.3" y2="394.2" stroke="#262626" stroke-width="0.85"/>
<line x1="679.5" y1="394.2" x2="677.4" y2="394.2" stroke="#262626" stroke-width="0.85"/>
<line x1="393.2" y1="392.95" x2="395.3" y2="392.95" stroke="#262626" stroke-width="0.85"/>
<line x1="679.5" y1="392.95" x2="677.4" y2="392.95" stroke="#262626" stroke-width="0.85"/>
<line x1="393.2" y1="391.85" x2="395.3" y2="391.85" stroke="#262626" stroke-width="0.85"/>
<line x1="679.5" y1="391.85" x2="677.4" y2="391.85" stroke="#262626" stroke-width="0.85"/>
<line x1="393.2" y1="390.87" x2="396" y2="390.87" stroke="#262626" stroke-width="0.9"/>
<line x1="679.5" y1="390.87" x2="676.7" y2="390.87" stroke="#262626" stroke-width="0.9"/>
<line x1="393.2" y1="384.4" x2="395.3" y2="384.4" stroke="#262626" stroke-width="0.85"/>
<line x1="679.5" y1="384.4" x2="677.4" y2="384.4" stroke="#262626" stroke-width="0.85"/>
<line x1="393.2" y1="380.62" x2="395.3" y2="380.62" stroke="#262626" stroke-width="0.85"/>
<line x1="679.5" y1="380.62" x2="677.4" y2="380.62" stroke="#262626" stroke-width="0.85"/>
<line x1="393.2" y1="377.93" x2="395.3" y2="377.93" stroke="#262626" stroke-width="0.85"/>
<line x1="679.5" y1="377.93" x2="677.4" y2="377.93" stroke="#262626" stroke-width="0.85"/>
<line x1="393.2" y1="375.85" x2="395.3" y2="375.85" stroke="#262626" stroke-width="0.85"/>
<line x1="679.5" y1="375.85" x2="677.4" y2="375.85" stroke="#262626" stroke-width="0.85"/>
<line x1="393.2" y1="374.15" x2="395.3" y2="374.15" stroke="#262626" stroke-width="0.85"/>
<line x1="679.5" y1="374.15" x2="677.4" y2="374.15" stroke="#262626" stroke-width="0.85"/>
<line x1="393.2" y1="372.71" x2="395.3" y2="372.71" stroke="#262626" stroke-width="0.85"/>
<line x1="679.5" y1="372.71" x2="677.4" y2="372.71" stroke="#262626" stroke-width="0.85"/>
<line x1="393.2" y1="371.46" x2="395.3" y2="371.46" stroke="#262626" stroke-width="0.85"/>
<line x1="679.5" y1="371.46" x2="677.4" y2="371.46" stroke="#262626" stroke-width="0.85"/>
<line x1="393.2" y1="370.36" x2="395.3" y2="370.36" stroke="#262626" stroke-width="0.85"/>
<line x1="679.5" y1="370.36" x2="677.4" y2="370.36" stroke="#262626" stroke-width="0.85"/>
<line x1="393.2" y1="369.38" x2="396" y2="369.38" stroke="#262626" stroke-width="0.9"/>
<line x1="679.5" y1="369.38" x2="676.7" y2="369.38" stroke="#262626" stroke-width="0.9"/>
<text transform="translate(385.2 374.63) scale(0.76 1)" font-size="10" text-anchor="end" fill="#262626" stroke="#262626" stroke-width="0.28">10</text>
<text transform="translate(389.9 369.68) scale(0.75 1)" font-size="8.4" text-anchor="end" fill="#262626" stroke="#262626" stroke-width="0.28">4</text>
<line x1="393.2" y1="362.91" x2="395.3" y2="362.91" stroke="#262626" stroke-width="0.85"/>
<line x1="679.5" y1="362.91" x2="677.4" y2="362.91" stroke="#262626" stroke-width="0.85"/>
<line x1="393.2" y1="359.13" x2="395.3" y2="359.13" stroke="#262626" stroke-width="0.85"/>
<line x1="679.5" y1="359.13" x2="677.4" y2="359.13" stroke="#262626" stroke-width="0.85"/>
<line x1="393.2" y1="356.44" x2="395.3" y2="356.44" stroke="#262626" stroke-width="0.85"/>
<line x1="679.5" y1="356.44" x2="677.4" y2="356.44" stroke="#262626" stroke-width="0.85"/>
<line x1="393.2" y1="354.36" x2="395.3" y2="354.36" stroke="#262626" stroke-width="0.85"/>
<line x1="679.5" y1="354.36" x2="677.4" y2="354.36" stroke="#262626" stroke-width="0.85"/>
<line x1="393.2" y1="352.66" x2="395.3" y2="352.66" stroke="#262626" stroke-width="0.85"/>
<line x1="679.5" y1="352.66" x2="677.4" y2="352.66" stroke="#262626" stroke-width="0.85"/>
<line x1="393.2" y1="351.22" x2="395.3" y2="351.22" stroke="#262626" stroke-width="0.85"/>
<line x1="679.5" y1="351.22" x2="677.4" y2="351.22" stroke="#262626" stroke-width="0.85"/>
<line x1="393.2" y1="349.97" x2="395.3" y2="349.97" stroke="#262626" stroke-width="0.85"/>
<line x1="679.5" y1="349.97" x2="677.4" y2="349.97" stroke="#262626" stroke-width="0.85"/>
<line x1="393.2" y1="348.87" x2="395.3" y2="348.87" stroke="#262626" stroke-width="0.85"/>
<line x1="679.5" y1="348.87" x2="677.4" y2="348.87" stroke="#262626" stroke-width="0.85"/>
<line x1="393.2" y1="347.89" x2="396" y2="347.89" stroke="#262626" stroke-width="0.9"/>
<line x1="679.5" y1="347.89" x2="676.7" y2="347.89" stroke="#262626" stroke-width="0.9"/>
<line x1="393.2" y1="341.42" x2="395.3" y2="341.42" stroke="#262626" stroke-width="0.85"/>
<line x1="679.5" y1="341.42" x2="677.4" y2="341.42" stroke="#262626" stroke-width="0.85"/>
<line x1="393.2" y1="337.64" x2="395.3" y2="337.64" stroke="#262626" stroke-width="0.85"/>
<line x1="679.5" y1="337.64" x2="677.4" y2="337.64" stroke="#262626" stroke-width="0.85"/>
<line x1="393.2" y1="334.95" x2="395.3" y2="334.95" stroke="#262626" stroke-width="0.85"/>
<line x1="679.5" y1="334.95" x2="677.4" y2="334.95" stroke="#262626" stroke-width="0.85"/>
<line x1="393.2" y1="332.87" x2="395.3" y2="332.87" stroke="#262626" stroke-width="0.85"/>
<line x1="679.5" y1="332.87" x2="677.4" y2="332.87" stroke="#262626" stroke-width="0.85"/>
<line x1="393.2" y1="331.17" x2="395.3" y2="331.17" stroke="#262626" stroke-width="0.85"/>
<line x1="679.5" y1="331.17" x2="677.4" y2="331.17" stroke="#262626" stroke-width="0.85"/>
<line x1="393.2" y1="329.73" x2="395.3" y2="329.73" stroke="#262626" stroke-width="0.85"/>
<line x1="679.5" y1="329.73" x2="677.4" y2="329.73" stroke="#262626" stroke-width="0.85"/>
<line x1="393.2" y1="328.48" x2="395.3" y2="328.48" stroke="#262626" stroke-width="0.85"/>
<line x1="679.5" y1="328.48" x2="677.4" y2="328.48" stroke="#262626" stroke-width="0.85"/>
<line x1="393.2" y1="327.38" x2="395.3" y2="327.38" stroke="#262626" stroke-width="0.85"/>
<line x1="679.5" y1="327.38" x2="677.4" y2="327.38" stroke="#262626" stroke-width="0.85"/>
<line x1="393.2" y1="326.4" x2="396" y2="326.4" stroke="#262626" stroke-width="0.9"/>
<line x1="679.5" y1="326.4" x2="676.7" y2="326.4" stroke="#262626" stroke-width="0.9"/>
<text transform="translate(385.2 331.65) scale(0.76 1)" font-size="10" text-anchor="end" fill="#262626" stroke="#262626" stroke-width="0.28">10</text>
<text transform="translate(389.9 326.7) scale(0.75 1)" font-size="8.4" text-anchor="end" fill="#262626" stroke="#262626" stroke-width="0.28">6</text>
<clipPath id="c2"><rect x="393.2" y="326.4" width="286.3" height="258.5"/></clipPath>
<g clip-path="url(#c2)" fill="none" stroke-linejoin="round">
<polyline points="393.77,455.34 394.35,380.12 394.92,404.45 395.49,406.8 396.06,409.04 396.64,411.19 397.21,413.25 397.78,415.23 398.35,417.13 398.93,418.96 399.5,420.73 400.07,422.45 400.64,424.11 401.22,425.72 401.79,427.29 402.36,428.82 402.93,430.31 403.51,431.76 404.08,433.19 404.65,434.58 405.22,435.95 405.8,437.3 406.37,438.62 406.94,439.92 407.51,441.2 408.09,442.47 408.66,443.72 409.23,444.96 409.81,446.18 410.38,447.39 410.95,448.59 411.52,449.78 412.1,450.95 412.67,452.12 413.24,453.29 413.81,454.44 414.39,455.59 414.96,456.73 415.53,457.87 416.1,459 416.68,460.13 417.25,461.25 417.82,462.37 418.39,463.49 418.97,464.6 419.54,465.71 420.11,466.81 420.68,467.92 421.26,469.02 421.83,470.11 422.4,471.21 422.98,472.31 423.55,473.4 424.12,474.49 424.69,475.58 425.27,476.67 425.84,477.76 426.41,478.84 426.98,479.93 427.56,481.01 428.13,482.1 428.7,483.18 429.27,484.26 429.85,485.35 430.42,486.43 430.99,487.51 431.56,488.59 432.14,489.67 432.71,490.75 433.28,491.83 433.85,492.9 434.43,493.98 435,495.06 435.57,496.14 436.14,497.21 436.72,498.29 437.29,499.37 437.86,500.44 438.44,501.52 439.01,502.6 439.58,503.67 440.15,504.75 440.73,505.83 441.3,506.9 441.87,507.98 442.44,509.05 443.02,510.13 443.59,511.2 444.16,512.28 444.73,513.35 445.31,514.43 445.88,515.5 446.45,516.58 447.02,517.65 447.6,518.73 448.17,519.8 448.74,520.88 449.31,521.95 449.89,523.03 450.46,524.1 451.03,525.18 451.61,526.25 452.18,527.33 452.75,528.4 453.32,529.48 453.9,530.55 454.47,531.63 455.04,532.7 455.61,533.78 456.19,534.85 456.76,535.93 457.33,537 457.9,538.08 458.48,539.15 459.05,540.22 459.62,541.3 460.19,542.37 460.77,543.45 461.34,544.52 461.91,545.6 462.48,546.67 463.06,547.75 463.63,548.82 464.2,549.9 464.77,550.97 465.35,552.04 465.92,553.12 466.49,554.19 467.07,555.27 467.64,556.34 468.21,557.42 468.78,558.49 469.36,559.57 469.93,560.64 470.5,561.72 471.07,562.79 471.65,563.86 472.22,564.94 472.79,566.01 473.36,567.09 473.94,568.16 474.51,569.24 475.08,570.31 475.65,571.39 476.23,572.46 476.8,573.53 477.37,574.61 477.94,575.68 478.52,576.76 479.09,577.83 479.66,578.91 480.24,579.98 480.81,581.06 481.38,582.13 481.95,583.21 482.53,584.28" stroke="#ff0000" stroke-width="1.45"/>
<polyline points="393.43,455.34 393.94,347.89 394.92,367.02" stroke="#0000ff" stroke-width="1.9" stroke-dasharray="3.6 0.7"/>
<polyline points="393.77,455.34 394.35,347.89 394.92,367.02 522.03,584.28 523.75,587.22" stroke="#0000ff" stroke-width="1.6" stroke-dasharray="4.7 1.15 2.7 1.15"/>
<polyline points="393.43,455.34 393.94,331.99 394.92,360.78" stroke="#a08432" stroke-width="1.9" stroke-dasharray="3.6 0.7"/>
<polyline points="393.77,455.34 394.35,331.99 394.92,360.78 662.89,584.28 664.61,585.71" stroke="#a08432" stroke-width="1.6" stroke-dasharray="4.7 1.15 2.7 1.15"/>
</g>
<text transform="translate(530.35 609.9) scale(0.83 1)" font-size="10.1" text-anchor="middle" fill="#262626" stroke="#262626" stroke-width="0.28">Number of iterations</text>
<text transform="translate(371.2 455.55) rotate(-90)" font-size="10.6" text-anchor="middle" fill="#262626" font-family='"Liberation Serif", serif' font-style="italic" stroke="#262626" stroke-width="0.4">e<tspan font-size="6.5" dy="1.6">i</tspan></text>
<rect x="627.4" y="330.6" width="46.5" height="34.6" fill="#fff" stroke="#262626" stroke-width="0.8"/>
<line x1="629.2" y1="337.35" x2="643.7" y2="337.35" stroke="#ff0000" stroke-width="1.6"/>
<text transform="translate(644.9 340.45) scale(0.81 1)" font-size="8.4" text-anchor="start" fill="#111" stroke="#111" stroke-width="0.28">YAS Alg</text>
<line x1="629.2" y1="348.2" x2="643.7" y2="348.2" stroke="#0000ff" stroke-width="1.6" stroke-dasharray="4.9 1.1 2.7 1.2"/>
<text transform="translate(644.9 351.3) scale(0.81 1)" font-size="8.4" text-anchor="start" fill="#111" stroke="#111" stroke-width="0.28">BCV Alg</text>
<line x1="629.2" y1="359.05" x2="643.7" y2="359.05" stroke="#a08432" stroke-width="1.6" stroke-dasharray="4.9 1.1 2.7 1.2"/>
<text transform="translate(644.9 362.15) scale(0.81 1)" font-size="8.4" text-anchor="start" fill="#111" stroke="#111" stroke-width="0.28">BSV Alg</text>
</g>
<line x1="16.5" y1="865.4" x2="303.8" y2="865.4" stroke="#e2e2e2" stroke-width="0.9"/>
<line x1="16.5" y1="828.6" x2="303.8" y2="828.6" stroke="#e2e2e2" stroke-width="0.9"/>
<line x1="16.5" y1="791.8" x2="303.8" y2="791.8" stroke="#e2e2e2" stroke-width="0.9"/>
<line x1="16.5" y1="755" x2="303.8" y2="755" stroke="#e2e2e2" stroke-width="0.9"/>
<line x1="16.5" y1="718.2" x2="303.8" y2="718.2" stroke="#e2e2e2" stroke-width="0.9"/>
<line x1="16.5" y1="681.4" x2="303.8" y2="681.4" stroke="#e2e2e2" stroke-width="0.9"/>
<line x1="94.7" y1="644.6" x2="94.7" y2="902.2" stroke="#e2e2e2" stroke-width="0.7"/>
<line x1="159.7" y1="644.6" x2="159.7" y2="902.2" stroke="#e2e2e2" stroke-width="0.7"/>
<line x1="224.7" y1="644.6" x2="224.7" y2="902.2" stroke="#e2e2e2" stroke-width="0.7"/>
<rect x="68.6" y="871.47" width="52.2" height="30.73" fill="#0072BD" stroke="#111" stroke-width="0.9"/>
<rect x="68.6" y="824.96" width="52.2" height="46.52" fill="#D95319" stroke="#111" stroke-width="0.9"/>
<text transform="translate(94.4 824.66) scale(0.65 1)" font-size="5.7" text-anchor="middle" fill="#111" stroke="#111" stroke-width="0.28">252.8</text>
<text transform="translate(94.4 876.14) scale(0.65 1)" font-size="5.7" text-anchor="middle" fill="#111" stroke="#111" stroke-width="0.28">167</text>
<rect x="133.6" y="860.06" width="52.2" height="42.14" fill="#0072BD" stroke="#111" stroke-width="0.9"/>
<rect x="133.6" y="775.13" width="52.2" height="84.93" fill="#D95319" stroke="#111" stroke-width="0.9"/>
<text transform="translate(159.4 774.83) scale(0.65 1)" font-size="5.7" text-anchor="middle" fill="#111" stroke="#111" stroke-width="0.28">461.6</text>
<text transform="translate(159.4 864.74) scale(0.65 1)" font-size="5.7" text-anchor="middle" fill="#111" stroke="#111" stroke-width="0.28">229</text>
<rect x="198.6" y="813.33" width="52.2" height="88.87" fill="#0072BD" stroke="#111" stroke-width="0.9"/>
<rect x="198.6" y="666.88" width="52.2" height="146.45" fill="#D95319" stroke="#111" stroke-width="0.9"/>
<text transform="translate(224.4 666.58) scale(0.65 1)" font-size="5.7" text-anchor="middle" fill="#111" stroke="#111" stroke-width="0.28">795.9</text>
<text transform="translate(224.4 818) scale(0.65 1)" font-size="5.7" text-anchor="middle" fill="#111" stroke="#111" stroke-width="0.28">483</text>
<rect x="16.5" y="644.6" width="287.3" height="257.6" fill="none" stroke="#262626" stroke-width="0.9"/>
<line x1="16.5" y1="902.2" x2="19.5" y2="902.2" stroke="#262626" stroke-width="1"/>
<line x1="303.8" y1="902.2" x2="300.8" y2="902.2" stroke="#262626" stroke-width="1"/>
<text transform="translate(14.1 904.65) scale(0.56 1)" font-size="6.8" text-anchor="end" fill="#262626" stroke="#262626" stroke-width="0.28">0</text>
<line x1="16.5" y1="865.4" x2="19.5" y2="865.4" stroke="#262626" stroke-width="1"/>
<line x1="303.8" y1="865.4" x2="300.8" y2="865.4" stroke="#262626" stroke-width="1"/>
<text transform="translate(14.1 867.85) scale(0.56 1)" font-size="6.8" text-anchor="end" fill="#262626" stroke="#262626" stroke-width="0.28">200</text>
<line x1="16.5" y1="828.6" x2="19.5" y2="828.6" stroke="#262626" stroke-width="1"/>
<line x1="303.8" y1="828.6" x2="300.8" y2="828.6" stroke="#262626" stroke-width="1"/>
<text transform="translate(14.1 831.05) scale(0.56 1)" font-size="6.8" text-anchor="end" fill="#262626" stroke="#262626" stroke-width="0.28">400</text>
<line x1="16.5" y1="791.8" x2="19.5" y2="791.8" stroke="#262626" stroke-width="1"/>
<line x1="303.8" y1="791.8" x2="300.8" y2="791.8" stroke="#262626" stroke-width="1"/>
<text transform="translate(14.1 794.25) scale(0.56 1)" font-size="6.8" text-anchor="end" fill="#262626" stroke="#262626" stroke-width="0.28">600</text>
<line x1="16.5" y1="755" x2="19.5" y2="755" stroke="#262626" stroke-width="1"/>
<line x1="303.8" y1="755" x2="300.8" y2="755" stroke="#262626" stroke-width="1"/>
<text transform="translate(14.1 757.45) scale(0.56 1)" font-size="6.8" text-anchor="end" fill="#262626" stroke="#262626" stroke-width="0.28">800</text>
<line x1="16.5" y1="718.2" x2="19.5" y2="718.2" stroke="#262626" stroke-width="1"/>
<line x1="303.8" y1="718.2" x2="300.8" y2="718.2" stroke="#262626" stroke-width="1"/>
<text transform="translate(14.1 720.65) scale(0.56 1)" font-size="6.8" text-anchor="end" fill="#262626" stroke="#262626" stroke-width="0.28">1000</text>
<line x1="16.5" y1="681.4" x2="19.5" y2="681.4" stroke="#262626" stroke-width="1"/>
<line x1="303.8" y1="681.4" x2="300.8" y2="681.4" stroke="#262626" stroke-width="1"/>
<text transform="translate(14.1 683.85) scale(0.56 1)" font-size="6.8" text-anchor="end" fill="#262626" stroke="#262626" stroke-width="0.28">1200</text>
<line x1="16.5" y1="644.6" x2="19.5" y2="644.6" stroke="#262626" stroke-width="1"/>
<line x1="303.8" y1="644.6" x2="300.8" y2="644.6" stroke="#262626" stroke-width="1"/>
<text transform="translate(14.1 647.05) scale(0.56 1)" font-size="6.8" text-anchor="end" fill="#262626" stroke="#262626" stroke-width="0.28">1400</text>
<line x1="94.7" y1="902.2" x2="94.7" y2="897.2" stroke="#262626" stroke-width="0.75"/>
<line x1="94.7" y1="644.6" x2="94.7" y2="649.6" stroke="#262626" stroke-width="0.75"/>
<text transform="translate(94.5 911.2) scale(0.66 1)" font-size="6.3" text-anchor="middle" fill="#262626" stroke="#262626" stroke-width="0.28">YAS Alg</text>
<line x1="159.7" y1="902.2" x2="159.7" y2="897.2" stroke="#262626" stroke-width="0.75"/>
<line x1="159.7" y1="644.6" x2="159.7" y2="649.6" stroke="#262626" stroke-width="0.75"/>
<text transform="translate(159.5 911.2) scale(0.66 1)" font-size="6.3" text-anchor="middle" fill="#262626" stroke="#262626" stroke-width="0.28">BCV Alg</text>
<line x1="224.7" y1="902.2" x2="224.7" y2="897.2" stroke="#262626" stroke-width="0.75"/>
<line x1="224.7" y1="644.6" x2="224.7" y2="649.6" stroke="#262626" stroke-width="0.75"/>
<text transform="translate(224.5 911.2) scale(0.66 1)" font-size="6.3" text-anchor="middle" fill="#262626" stroke="#262626" stroke-width="0.28">BSV Alg</text>
<text transform="translate(158.25 920.6) scale(0.65 1)" font-size="6.6" text-anchor="middle" fill="#262626" stroke="#262626" stroke-width="0.28">Algorithms</text>
<text transform="translate(3.8 781.3) rotate(-90) scale(1 0.65)" font-size="7.4" text-anchor="middle" fill="#262626" stroke="#262626" stroke-width="0.28">Number of Iterations / CPU Time</text>
<text transform="translate(153.45 640.9) scale(0.65 1)" font-size="6.4" text-anchor="middle" fill="#000" font-weight="bold" stroke="#000" stroke-width="0.25">Algorithm Performance Comparison</text>
<rect x="19.3" y="649.3" width="50.8" height="17" fill="#fff" stroke="#262626" stroke-width="0.8"/>
<rect x="20.8" y="651.5" width="12" height="5.3" fill="#0072BD" stroke="#111" stroke-width="0.6"/>
<rect x="20.8" y="658.8" width="12" height="5.2" fill="#D95319" stroke="#111" stroke-width="0.6"/>
<text transform="translate(33.3 656.9) scale(0.56 1)" font-size="6.2" text-anchor="start" fill="#111" stroke="#111" stroke-width="0.28">Number of Iterations</text>
<text transform="translate(33.3 664.1) scale(0.56 1)" font-size="6.2" text-anchor="start" fill="#111" stroke="#111" stroke-width="0.28">CPU Time/s</text>
<g>
<g stroke="#fafafa" stroke-width="0.8" opacity="1">
<line x1="396.06" y1="644.45" x2="396.06" y2="902.3"/>
<line x1="398.93" y1="644.45" x2="398.93" y2="902.3"/>
<line x1="401.79" y1="644.45" x2="401.79" y2="902.3"/>
<line x1="404.66" y1="644.45" x2="404.66" y2="902.3"/>
<line x1="407.52" y1="644.45" x2="407.52" y2="902.3"/>
<line x1="410.38" y1="644.45" x2="410.38" y2="902.3"/>
<line x1="413.25" y1="644.45" x2="413.25" y2="902.3"/>
<line x1="416.11" y1="644.45" x2="416.11" y2="902.3"/>
<line x1="418.98" y1="644.45" x2="418.98" y2="902.3"/>
<line x1="424.7" y1="644.45" x2="424.7" y2="902.3"/>
<line x1="427.57" y1="644.45" x2="427.57" y2="902.3"/>
<line x1="430.43" y1="644.45" x2="430.43" y2="902.3"/>
<line x1="433.3" y1="644.45" x2="433.3" y2="902.3"/>
<line x1="436.16" y1="644.45" x2="436.16" y2="902.3"/>
<line x1="439.02" y1="644.45" x2="439.02" y2="902.3"/>
<line x1="441.89" y1="644.45" x2="441.89" y2="902.3"/>
<line x1="444.75" y1="644.45" x2="444.75" y2="902.3"/>
<line x1="447.62" y1="644.45" x2="447.62" y2="902.3"/>
<line x1="453.34" y1="644.45" x2="453.34" y2="902.3"/>
<line x1="456.21" y1="644.45" x2="456.21" y2="902.3"/>
<line x1="459.07" y1="644.45" x2="459.07" y2="902.3"/>
<line x1="461.94" y1="644.45" x2="461.94" y2="902.3"/>
<line x1="464.8" y1="644.45" x2="464.8" y2="902.3"/>
<line x1="467.66" y1="644.45" x2="467.66" y2="902.3"/>
<line x1="470.53" y1="644.45" x2="470.53" y2="902.3"/>
<line x1="473.39" y1="644.45" x2="473.39" y2="902.3"/>
<line x1="476.26" y1="644.45" x2="476.26" y2="902.3"/>
<line x1="481.98" y1="644.45" x2="481.98" y2="902.3"/>
<line x1="484.85" y1="644.45" x2="484.85" y2="902.3"/>
<line x1="487.71" y1="644.45" x2="487.71" y2="902.3"/>
<line x1="490.58" y1="644.45" x2="490.58" y2="902.3"/>
<line x1="493.44" y1="644.45" x2="493.44" y2="902.3"/>
<line x1="496.3" y1="644.45" x2="496.3" y2="902.3"/>
<line x1="499.17" y1="644.45" x2="499.17" y2="902.3"/>
<line x1="502.03" y1="644.45" x2="502.03" y2="902.3"/>
<line x1="504.9" y1="644.45" x2="504.9" y2="902.3"/>
<line x1="510.62" y1="644.45" x2="510.62" y2="902.3"/>
<line x1="513.49" y1="644.45" x2="513.49" y2="902.3"/>
<line x1="516.35" y1="644.45" x2="516.35" y2="902.3"/>
<line x1="519.22" y1="644.45" x2="519.22" y2="902.3"/>
<line x1="522.08" y1="644.45" x2="522.08" y2="902.3"/>
<line x1="524.94" y1="644.45" x2="524.94" y2="902.3"/>
<line x1="527.81" y1="644.45" x2="527.81" y2="902.3"/>
<line x1="530.67" y1="644.45" x2="530.67" y2="902.3"/>
<line x1="533.54" y1="644.45" x2="533.54" y2="902.3"/>
<line x1="539.26" y1="644.45" x2="539.26" y2="902.3"/>
<line x1="542.13" y1="644.45" x2="542.13" y2="902.3"/>
<line x1="544.99" y1="644.45" x2="544.99" y2="902.3"/>
<line x1="547.86" y1="644.45" x2="547.86" y2="902.3"/>
<line x1="550.72" y1="644.45" x2="550.72" y2="902.3"/>
<line x1="553.58" y1="644.45" x2="553.58" y2="902.3"/>
<line x1="556.45" y1="644.45" x2="556.45" y2="902.3"/>
<line x1="559.31" y1="644.45" x2="559.31" y2="902.3"/>
<line x1="562.18" y1="644.45" x2="562.18" y2="902.3"/>
<line x1="567.9" y1="644.45" x2="567.9" y2="902.3"/>
<line x1="570.77" y1="644.45" x2="570.77" y2="902.3"/>
<line x1="573.63" y1="644.45" x2="573.63" y2="902.3"/>
<line x1="576.5" y1="644.45" x2="576.5" y2="902.3"/>
<line x1="579.36" y1="644.45" x2="579.36" y2="902.3"/>
<line x1="582.22" y1="644.45" x2="582.22" y2="902.3"/>
<line x1="585.09" y1="644.45" x2="585.09" y2="902.3"/>
<line x1="587.95" y1="644.45" x2="587.95" y2="902.3"/>
<line x1="590.82" y1="644.45" x2="590.82" y2="902.3"/>
<line x1="596.54" y1="644.45" x2="596.54" y2="902.3"/>
<line x1="599.41" y1="644.45" x2="599.41" y2="902.3"/>
<line x1="602.27" y1="644.45" x2="602.27" y2="902.3"/>
<line x1="605.14" y1="644.45" x2="605.14" y2="902.3"/>
<line x1="608" y1="644.45" x2="608" y2="902.3"/>
<line x1="610.86" y1="644.45" x2="610.86" y2="902.3"/>
<line x1="613.73" y1="644.45" x2="613.73" y2="902.3"/>
<line x1="616.59" y1="644.45" x2="616.59" y2="902.3"/>
<line x1="619.46" y1="644.45" x2="619.46" y2="902.3"/>
<line x1="625.18" y1="644.45" x2="625.18" y2="902.3"/>
<line x1="628.05" y1="644.45" x2="628.05" y2="902.3"/>
<line x1="630.91" y1="644.45" x2="630.91" y2="902.3"/>
<line x1="633.78" y1="644.45" x2="633.78" y2="902.3"/>
<line x1="636.64" y1="644.45" x2="636.64" y2="902.3"/>
<line x1="639.5" y1="644.45" x2="639.5" y2="902.3"/>
<line x1="642.37" y1="644.45" x2="642.37" y2="902.3"/>
<line x1="645.23" y1="644.45" x2="645.23" y2="902.3"/>
<line x1="648.1" y1="644.45" x2="648.1" y2="902.3"/>
<line x1="653.82" y1="644.45" x2="653.82" y2="902.3"/>
<line x1="656.69" y1="644.45" x2="656.69" y2="902.3"/>
<line x1="659.55" y1="644.45" x2="659.55" y2="902.3"/>
<line x1="662.42" y1="644.45" x2="662.42" y2="902.3"/>
<line x1="665.28" y1="644.45" x2="665.28" y2="902.3"/>
<line x1="668.14" y1="644.45" x2="668.14" y2="902.3"/>
<line x1="671.01" y1="644.45" x2="671.01" y2="902.3"/>
<line x1="673.87" y1="644.45" x2="673.87" y2="902.3"/>
<line x1="676.74" y1="644.45" x2="676.74" y2="902.3"/>
</g>
<g stroke="#d6d6d6" stroke-width="0.7" stroke-dasharray="1.8 1.06" stroke-dashoffset="0.9">
<line x1="393.2" y1="896.25" x2="679.6" y2="896.25"/>
<line x1="393.2" y1="892.68" x2="679.6" y2="892.68"/>
<line x1="393.2" y1="890.14" x2="679.6" y2="890.14"/>
<line x1="393.2" y1="888.17" x2="679.6" y2="888.17"/>
<line x1="393.2" y1="886.56" x2="679.6" y2="886.56"/>
<line x1="393.2" y1="885.2" x2="679.6" y2="885.2"/>
<line x1="393.2" y1="884.02" x2="679.6" y2="884.02"/>
<line x1="393.2" y1="882.99" x2="679.6" y2="882.99"/>
<line x1="393.2" y1="882.06" x2="679.6" y2="882.06"/>
<line x1="393.2" y1="875.94" x2="679.6" y2="875.94"/>
<line x1="393.2" y1="872.37" x2="679.6" y2="872.37"/>
<line x1="393.2" y1="869.83" x2="679.6" y2="869.83"/>
<line x1="393.2" y1="867.86" x2="679.6" y2="867.86"/>
<line x1="393.2" y1="866.25" x2="679.6" y2="866.25"/>
<line x1="393.2" y1="864.89" x2="679.6" y2="864.89"/>
<line x1="393.2" y1="863.71" x2="679.6" y2="863.71"/>
<line x1="393.2" y1="862.68" x2="679.6" y2="862.68"/>
<line x1="393.2" y1="855.63" x2="679.6" y2="855.63"/>
<line x1="393.2" y1="852.06" x2="679.6" y2="852.06"/>
<line x1="393.2" y1="849.52" x2="679.6" y2="849.52"/>
<line x1="393.2" y1="847.55" x2="679.6" y2="847.55"/>
<line x1="393.2" y1="845.94" x2="679.6" y2="845.94"/>
<line x1="393.2" y1="844.58" x2="679.6" y2="844.58"/>
<line x1="393.2" y1="843.4" x2="679.6" y2="843.4"/>
<line x1="393.2" y1="842.37" x2="679.6" y2="842.37"/>
<line x1="393.2" y1="841.44" x2="679.6" y2="841.44"/>
<line x1="393.2" y1="835.32" x2="679.6" y2="835.32"/>
<line x1="393.2" y1="831.75" x2="679.6" y2="831.75"/>
<line x1="393.2" y1="829.21" x2="679.6" y2="829.21"/>
<line x1="393.2" y1="827.24" x2="679.6" y2="827.24"/>
<line x1="393.2" y1="825.63" x2="679.6" y2="825.63"/>
<line x1="393.2" y1="824.27" x2="679.6" y2="824.27"/>
<line x1="393.2" y1="823.09" x2="679.6" y2="823.09"/>
<line x1="393.2" y1="822.06" x2="679.6" y2="822.06"/>
<line x1="393.2" y1="815.01" x2="679.6" y2="815.01"/>
<line x1="393.2" y1="811.44" x2="679.6" y2="811.44"/>
<line x1="393.2" y1="808.9" x2="679.6" y2="808.9"/>
<line x1="393.2" y1="806.93" x2="679.6" y2="806.93"/>
<line x1="393.2" y1="805.32" x2="679.6" y2="805.32"/>
<line x1="393.2" y1="803.96" x2="679.6" y2="803.96"/>
<line x1="393.2" y1="802.78" x2="679.6" y2="802.78"/>
<line x1="393.2" y1="801.75" x2="679.6" y2="801.75"/>
<line x1="393.2" y1="800.82" x2="679.6" y2="800.82"/>
<line x1="393.2" y1="794.7" x2="679.6" y2="794.7"/>
<line x1="393.2" y1="791.13" x2="679.6" y2="791.13"/>
<line x1="393.2" y1="788.59" x2="679.6" y2="788.59"/>
<line x1="393.2" y1="786.62" x2="679.6" y2="786.62"/>
<line x1="393.2" y1="785.01" x2="679.6" y2="785.01"/>
<line x1="393.2" y1="783.65" x2="679.6" y2="783.65"/>
<line x1="393.2" y1="782.47" x2="679.6" y2="782.47"/>
<line x1="393.2" y1="781.44" x2="679.6" y2="781.44"/>
<line x1="393.2" y1="774.39" x2="679.6" y2="774.39"/>
<line x1="393.2" y1="770.82" x2="679.6" y2="770.82"/>
<line x1="393.2" y1="768.28" x2="679.6" y2="768.28"/>
<line x1="393.2" y1="766.31" x2="679.6" y2="766.31"/>
<line x1="393.2" y1="764.7" x2="679.6" y2="764.7"/>
<line x1="393.2" y1="763.34" x2="679.6" y2="763.34"/>
<line x1="393.2" y1="762.16" x2="679.6" y2="762.16"/>
<line x1="393.2" y1="761.13" x2="679.6" y2="761.13"/>
<line x1="393.2" y1="760.2" x2="679.6" y2="760.2"/>
<line x1="393.2" y1="754.08" x2="679.6" y2="754.08"/>
<line x1="393.2" y1="750.51" x2="679.6" y2="750.51"/>
<line x1="393.2" y1="747.97" x2="679.6" y2="747.97"/>
<line x1="393.2" y1="746" x2="679.6" y2="746"/>
<line x1="393.2" y1="744.39" x2="679.6" y2="744.39"/>
<line x1="393.2" y1="743.03" x2="679.6" y2="743.03"/>
<line x1="393.2" y1="741.85" x2="679.6" y2="741.85"/>
<line x1="393.2" y1="740.82" x2="679.6" y2="740.82"/>
<line x1="393.2" y1="733.77" x2="679.6" y2="733.77"/>
<line x1="393.2" y1="730.2" x2="679.6" y2="730.2"/>
<line x1="393.2" y1="727.66" x2="679.6" y2="727.66"/>
<line x1="393.2" y1="725.69" x2="679.6" y2="725.69"/>
<line x1="393.2" y1="724.08" x2="679.6" y2="724.08"/>
<line x1="393.2" y1="722.72" x2="679.6" y2="722.72"/>
<line x1="393.2" y1="721.54" x2="679.6" y2="721.54"/>
<line x1="393.2" y1="720.51" x2="679.6" y2="720.51"/>
<line x1="393.2" y1="719.58" x2="679.6" y2="719.58"/>
<line x1="393.2" y1="713.46" x2="679.6" y2="713.46"/>
<line x1="393.2" y1="709.89" x2="679.6" y2="709.89"/>
<line x1="393.2" y1="707.35" x2="679.6" y2="707.35"/>
<line x1="393.2" y1="705.38" x2="679.6" y2="705.38"/>
<line x1="393.2" y1="703.77" x2="679.6" y2="703.77"/>
<line x1="393.2" y1="702.41" x2="679.6" y2="702.41"/>
<line x1="393.2" y1="701.23" x2="679.6" y2="701.23"/>
<line x1="393.2" y1="700.2" x2="679.6" y2="700.2"/>
<line x1="393.2" y1="693.15" x2="679.6" y2="693.15"/>
<line x1="393.2" y1="689.58" x2="679.6" y2="689.58"/>
<line x1="393.2" y1="687.04" x2="679.6" y2="687.04"/>
<line x1="393.2" y1="685.07" x2="679.6" y2="685.07"/>
<line x1="393.2" y1="683.46" x2="679.6" y2="683.46"/>
<line x1="393.2" y1="682.1" x2="679.6" y2="682.1"/>
<line x1="393.2" y1="680.92" x2="679.6" y2="680.92"/>
<line x1="393.2" y1="679.89" x2="679.6" y2="679.89"/>
<line x1="393.2" y1="678.96" x2="679.6" y2="678.96"/>
<line x1="393.2" y1="672.84" x2="679.6" y2="672.84"/>
<line x1="393.2" y1="669.27" x2="679.6" y2="669.27"/>
<line x1="393.2" y1="666.73" x2="679.6" y2="666.73"/>
<line x1="393.2" y1="664.76" x2="679.6" y2="664.76"/>
<line x1="393.2" y1="663.15" x2="679.6" y2="663.15"/>
<line x1="393.2" y1="661.79" x2="679.6" y2="661.79"/>
<line x1="393.2" y1="660.61" x2="679.6" y2="660.61"/>
<line x1="393.2" y1="659.58" x2="679.6" y2="659.58"/>
<line x1="393.2" y1="652.53" x2="679.6" y2="652.53"/>
<line x1="393.2" y1="648.96" x2="679.6" y2="648.96"/>
<line x1="393.2" y1="646.42" x2="679.6" y2="646.42"/>
<line x1="393.2" y1="644.45" x2="679.6" y2="644.45"/>
</g>
<line x1="450.48" y1="644.45" x2="450.48" y2="902.3" stroke="#e1e1e1" stroke-width="0.9"/>
<line x1="507.76" y1="644.45" x2="507.76" y2="902.3" stroke="#e1e1e1" stroke-width="0.9"/>
<line x1="565.04" y1="644.45" x2="565.04" y2="902.3" stroke="#e1e1e1" stroke-width="0.9"/>
<line x1="622.32" y1="644.45" x2="622.32" y2="902.3" stroke="#e1e1e1" stroke-width="0.9"/>
<line x1="393.2" y1="861.75" x2="679.6" y2="861.75" stroke="#e1e1e1" stroke-width="1"/>
<line x1="393.2" y1="821.13" x2="679.6" y2="821.13" stroke="#e1e1e1" stroke-width="1"/>
<line x1="393.2" y1="780.51" x2="679.6" y2="780.51" stroke="#e1e1e1" stroke-width="1"/>
<line x1="393.2" y1="739.89" x2="679.6" y2="739.89" stroke="#e1e1e1" stroke-width="1"/>
<line x1="393.2" y1="699.27" x2="679.6" y2="699.27" stroke="#e1e1e1" stroke-width="1"/>
<line x1="393.2" y1="658.65" x2="679.6" y2="658.65" stroke="#e1e1e1" stroke-width="1"/>
<rect x="393.2" y="644.45" width="286.4" height="257.85" fill="none" stroke="#262626" stroke-width="1"/>
<line x1="393.2" y1="902.3" x2="393.2" y2="898.3" stroke="#262626" stroke-width="0.9"/>
<line x1="393.2" y1="644.45" x2="393.2" y2="648.45" stroke="#262626" stroke-width="0.9"/>
<text transform="translate(392 915.2) scale(0.77 1)" font-size="10.3" text-anchor="middle" fill="#262626" stroke="#262626" stroke-width="0.28">0</text>
<line x1="450.48" y1="902.3" x2="450.48" y2="898.3" stroke="#262626" stroke-width="0.9"/>
<line x1="450.48" y1="644.45" x2="450.48" y2="648.45" stroke="#262626" stroke-width="0.9"/>
<text transform="translate(449.28 915.2) scale(0.77 1)" font-size="10.3" text-anchor="middle" fill="#262626" stroke="#262626" stroke-width="0.28">100</text>
<line x1="507.76" y1="902.3" x2="507.76" y2="898.3" stroke="#262626" stroke-width="0.9"/>
<line x1="507.76" y1="644.45" x2="507.76" y2="648.45" stroke="#262626" stroke-width="0.9"/>
<text transform="translate(506.56 915.2) scale(0.77 1)" font-size="10.3" text-anchor="middle" fill="#262626" stroke="#262626" stroke-width="0.28">200</text>
<line x1="565.04" y1="902.3" x2="565.04" y2="898.3" stroke="#262626" stroke-width="0.9"/>
<line x1="565.04" y1="644.45" x2="565.04" y2="648.45" stroke="#262626" stroke-width="0.9"/>
<text transform="translate(563.84 915.2) scale(0.77 1)" font-size="10.3" text-anchor="middle" fill="#262626" stroke="#262626" stroke-width="0.28">300</text>
<line x1="622.32" y1="902.3" x2="622.32" y2="898.3" stroke="#262626" stroke-width="0.9"/>
<line x1="622.32" y1="644.45" x2="622.32" y2="648.45" stroke="#262626" stroke-width="0.9"/>
<text transform="translate(621.12 915.2) scale(0.77 1)" font-size="10.3" text-anchor="middle" fill="#262626" stroke="#262626" stroke-width="0.28">400</text>
<line x1="679.6" y1="902.3" x2="679.6" y2="898.3" stroke="#262626" stroke-width="0.9"/>
<line x1="679.6" y1="644.45" x2="679.6" y2="648.45" stroke="#262626" stroke-width="0.9"/>
<text transform="translate(678.4 915.2) scale(0.77 1)" font-size="10.3" text-anchor="middle" fill="#262626" stroke="#262626" stroke-width="0.28">500</text>
<line x1="393.2" y1="902.37" x2="396" y2="902.37" stroke="#262626" stroke-width="0.9"/>
<line x1="679.6" y1="902.37" x2="676.8" y2="902.37" stroke="#262626" stroke-width="0.9"/>
<text transform="translate(382.2 907.62) scale(0.76 1)" font-size="10.3" text-anchor="end" fill="#262626" stroke="#262626" stroke-width="0.28">10</text>
<text transform="translate(389.9 902.67) scale(0.75 1)" font-size="8.4" text-anchor="end" fill="#262626" stroke="#262626" stroke-width="0.28">-6</text>
<line x1="393.2" y1="896.25" x2="395.3" y2="896.25" stroke="#262626" stroke-width="0.85"/>
<line x1="679.6" y1="896.25" x2="677.5" y2="896.25" stroke="#262626" stroke-width="0.85"/>
<line x1="393.2" y1="892.68" x2="395.3" y2="892.68" stroke="#262626" stroke-width="0.85"/>
<line x1="679.6" y1="892.68" x2="677.5" y2="892.68" stroke="#262626" stroke-width="0.85"/>
<line x1="393.2" y1="890.14" x2="395.3" y2="890.14" stroke="#262626" stroke-width="0.85"/>
<line x1="679.6" y1="890.14" x2="677.5" y2="890.14" stroke="#262626" stroke-width="0.85"/>
<line x1="393.2" y1="888.17" x2="395.3" y2="888.17" stroke="#262626" stroke-width="0.85"/>
<line x1="679.6" y1="888.17" x2="677.5" y2="888.17" stroke="#262626" stroke-width="0.85"/>
<line x1="393.2" y1="886.56" x2="395.3" y2="886.56" stroke="#262626" stroke-width="0.85"/>
<line x1="679.6" y1="886.56" x2="677.5" y2="886.56" stroke="#262626" stroke-width="0.85"/>
<line x1="393.2" y1="885.2" x2="395.3" y2="885.2" stroke="#262626" stroke-width="0.85"/>
<line x1="679.6" y1="885.2" x2="677.5" y2="885.2" stroke="#262626" stroke-width="0.85"/>
<line x1="393.2" y1="884.02" x2="395.3" y2="884.02" stroke="#262626" stroke-width="0.85"/>
<line x1="679.6" y1="884.02" x2="677.5" y2="884.02" stroke="#262626" stroke-width="0.85"/>
<line x1="393.2" y1="882.99" x2="395.3" y2="882.99" stroke="#262626" stroke-width="0.85"/>
<line x1="679.6" y1="882.99" x2="677.5" y2="882.99" stroke="#262626" stroke-width="0.85"/>
<line x1="393.2" y1="882.06" x2="396" y2="882.06" stroke="#262626" stroke-width="0.9"/>
<line x1="679.6" y1="882.06" x2="676.8" y2="882.06" stroke="#262626" stroke-width="0.9"/>
<line x1="393.2" y1="875.94" x2="395.3" y2="875.94" stroke="#262626" stroke-width="0.85"/>
<line x1="679.6" y1="875.94" x2="677.5" y2="875.94" stroke="#262626" stroke-width="0.85"/>
<line x1="393.2" y1="872.37" x2="395.3" y2="872.37" stroke="#262626" stroke-width="0.85"/>
<line x1="679.6" y1="872.37" x2="677.5" y2="872.37" stroke="#262626" stroke-width="0.85"/>
<line x1="393.2" y1="869.83" x2="395.3" y2="869.83" stroke="#262626" stroke-width="0.85"/>
<line x1="679.6" y1="869.83" x2="677.5" y2="869.83" stroke="#262626" stroke-width="0.85"/>
<line x1="393.2" y1="867.86" x2="395.3" y2="867.86" stroke="#262626" stroke-width="0.85"/>
<line x1="679.6" y1="867.86" x2="677.5" y2="867.86" stroke="#262626" stroke-width="0.85"/>
<line x1="393.2" y1="866.25" x2="395.3" y2="866.25" stroke="#262626" stroke-width="0.85"/>
<line x1="679.6" y1="866.25" x2="677.5" y2="866.25" stroke="#262626" stroke-width="0.85"/>
<line x1="393.2" y1="864.89" x2="395.3" y2="864.89" stroke="#262626" stroke-width="0.85"/>
<line x1="679.6" y1="864.89" x2="677.5" y2="864.89" stroke="#262626" stroke-width="0.85"/>
<line x1="393.2" y1="863.71" x2="395.3" y2="863.71" stroke="#262626" stroke-width="0.85"/>
<line x1="679.6" y1="863.71" x2="677.5" y2="863.71" stroke="#262626" stroke-width="0.85"/>
<line x1="393.2" y1="862.68" x2="395.3" y2="862.68" stroke="#262626" stroke-width="0.85"/>
<line x1="679.6" y1="862.68" x2="677.5" y2="862.68" stroke="#262626" stroke-width="0.85"/>
<line x1="393.2" y1="861.75" x2="396" y2="861.75" stroke="#262626" stroke-width="0.9"/>
<line x1="679.6" y1="861.75" x2="676.8" y2="861.75" stroke="#262626" stroke-width="0.9"/>
<text transform="translate(382.2 867) scale(0.76 1)" font-size="10.3" text-anchor="end" fill="#262626" stroke="#262626" stroke-width="0.28">10</text>
<text transform="translate(389.9 862.05) scale(0.75 1)" font-size="8.4" text-anchor="end" fill="#262626" stroke="#262626" stroke-width="0.28">-4</text>
<line x1="393.2" y1="855.63" x2="395.3" y2="855.63" stroke="#262626" stroke-width="0.85"/>
<line x1="679.6" y1="855.63" x2="677.5" y2="855.63" stroke="#262626" stroke-width="0.85"/>
<line x1="393.2" y1="852.06" x2="395.3" y2="852.06" stroke="#262626" stroke-width="0.85"/>
<line x1="679.6" y1="852.06" x2="677.5" y2="852.06" stroke="#262626" stroke-width="0.85"/>
<line x1="393.2" y1="849.52" x2="395.3" y2="849.52" stroke="#262626" stroke-width="0.85"/>
<line x1="679.6" y1="849.52" x2="677.5" y2="849.52" stroke="#262626" stroke-width="0.85"/>
<line x1="393.2" y1="847.55" x2="395.3" y2="847.55" stroke="#262626" stroke-width="0.85"/>
<line x1="679.6" y1="847.55" x2="677.5" y2="847.55" stroke="#262626" stroke-width="0.85"/>
<line x1="393.2" y1="845.94" x2="395.3" y2="845.94" stroke="#262626" stroke-width="0.85"/>
<line x1="679.6" y1="845.94" x2="677.5" y2="845.94" stroke="#262626" stroke-width="0.85"/>
<line x1="393.2" y1="844.58" x2="395.3" y2="844.58" stroke="#262626" stroke-width="0.85"/>
<line x1="679.6" y1="844.58" x2="677.5" y2="844.58" stroke="#262626" stroke-width="0.85"/>
<line x1="393.2" y1="843.4" x2="395.3" y2="843.4" stroke="#262626" stroke-width="0.85"/>
<line x1="679.6" y1="843.4" x2="677.5" y2="843.4" stroke="#262626" stroke-width="0.85"/>
<line x1="393.2" y1="842.37" x2="395.3" y2="842.37" stroke="#262626" stroke-width="0.85"/>
<line x1="679.6" y1="842.37" x2="677.5" y2="842.37" stroke="#262626" stroke-width="0.85"/>
<line x1="393.2" y1="841.44" x2="396" y2="841.44" stroke="#262626" stroke-width="0.9"/>
<line x1="679.6" y1="841.44" x2="676.8" y2="841.44" stroke="#262626" stroke-width="0.9"/>
<line x1="393.2" y1="835.32" x2="395.3" y2="835.32" stroke="#262626" stroke-width="0.85"/>
<line x1="679.6" y1="835.32" x2="677.5" y2="835.32" stroke="#262626" stroke-width="0.85"/>
<line x1="393.2" y1="831.75" x2="395.3" y2="831.75" stroke="#262626" stroke-width="0.85"/>
<line x1="679.6" y1="831.75" x2="677.5" y2="831.75" stroke="#262626" stroke-width="0.85"/>
<line x1="393.2" y1="829.21" x2="395.3" y2="829.21" stroke="#262626" stroke-width="0.85"/>
<line x1="679.6" y1="829.21" x2="677.5" y2="829.21" stroke="#262626" stroke-width="0.85"/>
<line x1="393.2" y1="827.24" x2="395.3" y2="827.24" stroke="#262626" stroke-width="0.85"/>
<line x1="679.6" y1="827.24" x2="677.5" y2="827.24" stroke="#262626" stroke-width="0.85"/>
<line x1="393.2" y1="825.63" x2="395.3" y2="825.63" stroke="#262626" stroke-width="0.85"/>
<line x1="679.6" y1="825.63" x2="677.5" y2="825.63" stroke="#262626" stroke-width="0.85"/>
<line x1="393.2" y1="824.27" x2="395.3" y2="824.27" stroke="#262626" stroke-width="0.85"/>
<line x1="679.6" y1="824.27" x2="677.5" y2="824.27" stroke="#262626" stroke-width="0.85"/>
<line x1="393.2" y1="823.09" x2="395.3" y2="823.09" stroke="#262626" stroke-width="0.85"/>
<line x1="679.6" y1="823.09" x2="677.5" y2="823.09" stroke="#262626" stroke-width="0.85"/>
<line x1="393.2" y1="822.06" x2="395.3" y2="822.06" stroke="#262626" stroke-width="0.85"/>
<line x1="679.6" y1="822.06" x2="677.5" y2="822.06" stroke="#262626" stroke-width="0.85"/>
<line x1="393.2" y1="821.13" x2="396" y2="821.13" stroke="#262626" stroke-width="0.9"/>
<line x1="679.6" y1="821.13" x2="676.8" y2="821.13" stroke="#262626" stroke-width="0.9"/>
<text transform="translate(382.2 826.38) scale(0.76 1)" font-size="10.3" text-anchor="end" fill="#262626" stroke="#262626" stroke-width="0.28">10</text>
<text transform="translate(389.9 821.43) scale(0.75 1)" font-size="8.4" text-anchor="end" fill="#262626" stroke="#262626" stroke-width="0.28">-2</text>
<line x1="393.2" y1="815.01" x2="395.3" y2="815.01" stroke="#262626" stroke-width="0.85"/>
<line x1="679.6" y1="815.01" x2="677.5" y2="815.01" stroke="#262626" stroke-width="0.85"/>
<line x1="393.2" y1="811.44" x2="395.3" y2="811.44" stroke="#262626" stroke-width="0.85"/>
<line x1="679.6" y1="811.44" x2="677.5" y2="811.44" stroke="#262626" stroke-width="0.85"/>
<line x1="393.2" y1="808.9" x2="395.3" y2="808.9" stroke="#262626" stroke-width="0.85"/>
<line x1="679.6" y1="808.9" x2="677.5" y2="808.9" stroke="#262626" stroke-width="0.85"/>
<line x1="393.2" y1="806.93" x2="395.3" y2="806.93" stroke="#262626" stroke-width="0.85"/>
<line x1="679.6" y1="806.93" x2="677.5" y2="806.93" stroke="#262626" stroke-width="0.85"/>
<line x1="393.2" y1="805.32" x2="395.3" y2="805.32" stroke="#262626" stroke-width="0.85"/>
<line x1="679.6" y1="805.32" x2="677.5" y2="805.32" stroke="#262626" stroke-width="0.85"/>
<line x1="393.2" y1="803.96" x2="395.3" y2="803.96" stroke="#262626" stroke-width="0.85"/>
<line x1="679.6" y1="803.96" x2="677.5" y2="803.96" stroke="#262626" stroke-width="0.85"/>
<line x1="393.2" y1="802.78" x2="395.3" y2="802.78" stroke="#262626" stroke-width="0.85"/>
<line x1="679.6" y1="802.78" x2="677.5" y2="802.78" stroke="#262626" stroke-width="0.85"/>
<line x1="393.2" y1="801.75" x2="395.3" y2="801.75" stroke="#262626" stroke-width="0.85"/>
<line x1="679.6" y1="801.75" x2="677.5" y2="801.75" stroke="#262626" stroke-width="0.85"/>
<line x1="393.2" y1="800.82" x2="396" y2="800.82" stroke="#262626" stroke-width="0.9"/>
<line x1="679.6" y1="800.82" x2="676.8" y2="800.82" stroke="#262626" stroke-width="0.9"/>
<line x1="393.2" y1="794.7" x2="395.3" y2="794.7" stroke="#262626" stroke-width="0.85"/>
<line x1="679.6" y1="794.7" x2="677.5" y2="794.7" stroke="#262626" stroke-width="0.85"/>
<line x1="393.2" y1="791.13" x2="395.3" y2="791.13" stroke="#262626" stroke-width="0.85"/>
<line x1="679.6" y1="791.13" x2="677.5" y2="791.13" stroke="#262626" stroke-width="0.85"/>
<line x1="393.2" y1="788.59" x2="395.3" y2="788.59" stroke="#262626" stroke-width="0.85"/>
<line x1="679.6" y1="788.59" x2="677.5" y2="788.59" stroke="#262626" stroke-width="0.85"/>
<line x1="393.2" y1="786.62" x2="395.3" y2="786.62" stroke="#262626" stroke-width="0.85"/>
<line x1="679.6" y1="786.62" x2="677.5" y2="786.62" stroke="#262626" stroke-width="0.85"/>
<line x1="393.2" y1="785.01" x2="395.3" y2="785.01" stroke="#262626" stroke-width="0.85"/>
<line x1="679.6" y1="785.01" x2="677.5" y2="785.01" stroke="#262626" stroke-width="0.85"/>
<line x1="393.2" y1="783.65" x2="395.3" y2="783.65" stroke="#262626" stroke-width="0.85"/>
<line x1="679.6" y1="783.65" x2="677.5" y2="783.65" stroke="#262626" stroke-width="0.85"/>
<line x1="393.2" y1="782.47" x2="395.3" y2="782.47" stroke="#262626" stroke-width="0.85"/>
<line x1="679.6" y1="782.47" x2="677.5" y2="782.47" stroke="#262626" stroke-width="0.85"/>
<line x1="393.2" y1="781.44" x2="395.3" y2="781.44" stroke="#262626" stroke-width="0.85"/>
<line x1="679.6" y1="781.44" x2="677.5" y2="781.44" stroke="#262626" stroke-width="0.85"/>
<line x1="393.2" y1="780.51" x2="396" y2="780.51" stroke="#262626" stroke-width="0.9"/>
<line x1="679.6" y1="780.51" x2="676.8" y2="780.51" stroke="#262626" stroke-width="0.9"/>
<text transform="translate(385.2 785.76) scale(0.76 1)" font-size="10.3" text-anchor="end" fill="#262626" stroke="#262626" stroke-width="0.28">10</text>
<text transform="translate(389.9 780.81) scale(0.75 1)" font-size="8.4" text-anchor="end" fill="#262626" stroke="#262626" stroke-width="0.28">0</text>
<line x1="393.2" y1="774.39" x2="395.3" y2="774.39" stroke="#262626" stroke-width="0.85"/>
<line x1="679.6" y1="774.39" x2="677.5" y2="774.39" stroke="#262626" stroke-width="0.85"/>
<line x1="393.2" y1="770.82" x2="395.3" y2="770.82" stroke="#262626" stroke-width="0.85"/>
<line x1="679.6" y1="770.82" x2="677.5" y2="770.82" stroke="#262626" stroke-width="0.85"/>
<line x1="393.2" y1="768.28" x2="395.3" y2="768.28" stroke="#262626" stroke-width="0.85"/>
<line x1="679.6" y1="768.28" x2="677.5" y2="768.28" stroke="#262626" stroke-width="0.85"/>
<line x1="393.2" y1="766.31" x2="395.3" y2="766.31" stroke="#262626" stroke-width="0.85"/>
<line x1="679.6" y1="766.31" x2="677.5" y2="766.31" stroke="#262626" stroke-width="0.85"/>
<line x1="393.2" y1="764.7" x2="395.3" y2="764.7" stroke="#262626" stroke-width="0.85"/>
<line x1="679.6" y1="764.7" x2="677.5" y2="764.7" stroke="#262626" stroke-width="0.85"/>
<line x1="393.2" y1="763.34" x2="395.3" y2="763.34" stroke="#262626" stroke-width="0.85"/>
<line x1="679.6" y1="763.34" x2="677.5" y2="763.34" stroke="#262626" stroke-width="0.85"/>
<line x1="393.2" y1="762.16" x2="395.3" y2="762.16" stroke="#262626" stroke-width="0.85"/>
<line x1="679.6" y1="762.16" x2="677.5" y2="762.16" stroke="#262626" stroke-width="0.85"/>
<line x1="393.2" y1="761.13" x2="395.3" y2="761.13" stroke="#262626" stroke-width="0.85"/>
<line x1="679.6" y1="761.13" x2="677.5" y2="761.13" stroke="#262626" stroke-width="0.85"/>
<line x1="393.2" y1="760.2" x2="396" y2="760.2" stroke="#262626" stroke-width="0.9"/>
<line x1="679.6" y1="760.2" x2="676.8" y2="760.2" stroke="#262626" stroke-width="0.9"/>
<line x1="393.2" y1="754.08" x2="395.3" y2="754.08" stroke="#262626" stroke-width="0.85"/>
<line x1="679.6" y1="754.08" x2="677.5" y2="754.08" stroke="#262626" stroke-width="0.85"/>
<line x1="393.2" y1="750.51" x2="395.3" y2="750.51" stroke="#262626" stroke-width="0.85"/>
<line x1="679.6" y1="750.51" x2="677.5" y2="750.51" stroke="#262626" stroke-width="0.85"/>
<line x1="393.2" y1="747.97" x2="395.3" y2="747.97" stroke="#262626" stroke-width="0.85"/>
<line x1="679.6" y1="747.97" x2="677.5" y2="747.97" stroke="#262626" stroke-width="0.85"/>
<line x1="393.2" y1="746" x2="395.3" y2="746" stroke="#262626" stroke-width="0.85"/>
<line x1="679.6" y1="746" x2="677.5" y2="746" stroke="#262626" stroke-width="0.85"/>
<line x1="393.2" y1="744.39" x2="395.3" y2="744.39" stroke="#262626" stroke-width="0.85"/>
<line x1="679.6" y1="744.39" x2="677.5" y2="744.39" stroke="#262626" stroke-width="0.85"/>
<line x1="393.2" y1="743.03" x2="395.3" y2="743.03" stroke="#262626" stroke-width="0.85"/>
<line x1="679.6" y1="743.03" x2="677.5" y2="743.03" stroke="#262626" stroke-width="0.85"/>
<line x1="393.2" y1="741.85" x2="395.3" y2="741.85" stroke="#262626" stroke-width="0.85"/>
<line x1="679.6" y1="741.85" x2="677.5" y2="741.85" stroke="#262626" stroke-width="0.85"/>
<line x1="393.2" y1="740.82" x2="395.3" y2="740.82" stroke="#262626" stroke-width="0.85"/>
<line x1="679.6" y1="740.82" x2="677.5" y2="740.82" stroke="#262626" stroke-width="0.85"/>
<line x1="393.2" y1="739.89" x2="396" y2="739.89" stroke="#262626" stroke-width="0.9"/>
<line x1="679.6" y1="739.89" x2="676.8" y2="739.89" stroke="#262626" stroke-width="0.9"/>
<text transform="translate(385.2 745.14) scale(0.76 1)" font-size="10.3" text-anchor="end" fill="#262626" stroke="#262626" stroke-width="0.28">10</text>
<text transform="translate(389.9 740.19) scale(0.75 1)" font-size="8.4" text-anchor="end" fill="#262626" stroke="#262626" stroke-width="0.28">2</text>
<line x1="393.2" y1="733.77" x2="395.3" y2="733.77" stroke="#262626" stroke-width="0.85"/>
<line x1="679.6" y1="733.77" x2="677.5" y2="733.77" stroke="#262626" stroke-width="0.85"/>
<line x1="393.2" y1="730.2" x2="395.3" y2="730.2" stroke="#262626" stroke-width="0.85"/>
<line x1="679.6" y1="730.2" x2="677.5" y2="730.2" stroke="#262626" stroke-width="0.85"/>
<line x1="393.2" y1="727.66" x2="395.3" y2="727.66" stroke="#262626" stroke-width="0.85"/>
<line x1="679.6" y1="727.66" x2="677.5" y2="727.66" stroke="#262626" stroke-width="0.85"/>
<line x1="393.2" y1="725.69" x2="395.3" y2="725.69" stroke="#262626" stroke-width="0.85"/>
<line x1="679.6" y1="725.69" x2="677.5" y2="725.69" stroke="#262626" stroke-width="0.85"/>
<line x1="393.2" y1="724.08" x2="395.3" y2="724.08" stroke="#262626" stroke-width="0.85"/>
<line x1="679.6" y1="724.08" x2="677.5" y2="724.08" stroke="#262626" stroke-width="0.85"/>
<line x1="393.2" y1="722.72" x2="395.3" y2="722.72" stroke="#262626" stroke-width="0.85"/>
<line x1="679.6" y1="722.72" x2="677.5" y2="722.72" stroke="#262626" stroke-width="0.85"/>
<line x1="393.2" y1="721.54" x2="395.3" y2="721.54" stroke="#262626" stroke-width="0.85"/>
<line x1="679.6" y1="721.54" x2="677.5" y2="721.54" stroke="#262626" stroke-width="0.85"/>
<line x1="393.2" y1="720.51" x2="395.3" y2="720.51" stroke="#262626" stroke-width="0.85"/>
<line x1="679.6" y1="720.51" x2="677.5" y2="720.51" stroke="#262626" stroke-width="0.85"/>
<line x1="393.2" y1="719.58" x2="396" y2="719.58" stroke="#262626" stroke-width="0.9"/>
<line x1="679.6" y1="719.58" x2="676.8" y2="719.58" stroke="#262626" stroke-width="0.9"/>
<line x1="393.2" y1="713.46" x2="395.3" y2="713.46" stroke="#262626" stroke-width="0.85"/>
<line x1="679.6" y1="713.46" x2="677.5" y2="713.46" stroke="#262626" stroke-width="0.85"/>
<line x1="393.2" y1="709.89" x2="395.3" y2="709.89" stroke="#262626" stroke-width="0.85"/>
<line x1="679.6" y1="709.89" x2="677.5" y2="709.89" stroke="#262626" stroke-width="0.85"/>
<line x1="393.2" y1="707.35" x2="395.3" y2="707.35" stroke="#262626" stroke-width="0.85"/>
<line x1="679.6" y1="707.35" x2="677.5" y2="707.35" stroke="#262626" stroke-width="0.85"/>
<line x1="393.2" y1="705.38" x2="395.3" y2="705.38" stroke="#262626" stroke-width="0.85"/>
<line x1="679.6" y1="705.38" x2="677.5" y2="705.38" stroke="#262626" stroke-width="0.85"/>
<line x1="393.2" y1="703.77" x2="395.3" y2="703.77" stroke="#262626" stroke-width="0.85"/>
<line x1="679.6" y1="703.77" x2="677.5" y2="703.77" stroke="#262626" stroke-width="0.85"/>
<line x1="393.2" y1="702.41" x2="395.3" y2="702.41" stroke="#262626" stroke-width="0.85"/>
<line x1="679.6" y1="702.41" x2="677.5" y2="702.41" stroke="#262626" stroke-width="0.85"/>
<line x1="393.2" y1="701.23" x2="395.3" y2="701.23" stroke="#262626" stroke-width="0.85"/>
<line x1="679.6" y1="701.23" x2="677.5" y2="701.23" stroke="#262626" stroke-width="0.85"/>
<line x1="393.2" y1="700.2" x2="395.3" y2="700.2" stroke="#262626" stroke-width="0.85"/>
<line x1="679.6" y1="700.2" x2="677.5" y2="700.2" stroke="#262626" stroke-width="0.85"/>
<line x1="393.2" y1="699.27" x2="396" y2="699.27" stroke="#262626" stroke-width="0.9"/>
<line x1="679.6" y1="699.27" x2="676.8" y2="699.27" stroke="#262626" stroke-width="0.9"/>
<text transform="translate(385.2 704.52) scale(0.76 1)" font-size="10.3" text-anchor="end" fill="#262626" stroke="#262626" stroke-width="0.28">10</text>
<text transform="translate(389.9 699.57) scale(0.75 1)" font-size="8.4" text-anchor="end" fill="#262626" stroke="#262626" stroke-width="0.28">4</text>
<line x1="393.2" y1="693.15" x2="395.3" y2="693.15" stroke="#262626" stroke-width="0.85"/>
<line x1="679.6" y1="693.15" x2="677.5" y2="693.15" stroke="#262626" stroke-width="0.85"/>
<line x1="393.2" y1="689.58" x2="395.3" y2="689.58" stroke="#262626" stroke-width="0.85"/>
<line x1="679.6" y1="689.58" x2="677.5" y2="689.58" stroke="#262626" stroke-width="0.85"/>
<line x1="393.2" y1="687.04" x2="395.3" y2="687.04" stroke="#262626" stroke-width="0.85"/>
<line x1="679.6" y1="687.04" x2="677.5" y2="687.04" stroke="#262626" stroke-width="0.85"/>
<line x1="393.2" y1="685.07" x2="395.3" y2="685.07" stroke="#262626" stroke-width="0.85"/>
<line x1="679.6" y1="685.07" x2="677.5" y2="685.07" stroke="#262626" stroke-width="0.85"/>
<line x1="393.2" y1="683.46" x2="395.3" y2="683.46" stroke="#262626" stroke-width="0.85"/>
<line x1="679.6" y1="683.46" x2="677.5" y2="683.46" stroke="#262626" stroke-width="0.85"/>
<line x1="393.2" y1="682.1" x2="395.3" y2="682.1" stroke="#262626" stroke-width="0.85"/>
<line x1="679.6" y1="682.1" x2="677.5" y2="682.1" stroke="#262626" stroke-width="0.85"/>
<line x1="393.2" y1="680.92" x2="395.3" y2="680.92" stroke="#262626" stroke-width="0.85"/>
<line x1="679.6" y1="680.92" x2="677.5" y2="680.92" stroke="#262626" stroke-width="0.85"/>
<line x1="393.2" y1="679.89" x2="395.3" y2="679.89" stroke="#262626" stroke-width="0.85"/>
<line x1="679.6" y1="679.89" x2="677.5" y2="679.89" stroke="#262626" stroke-width="0.85"/>
<line x1="393.2" y1="678.96" x2="396" y2="678.96" stroke="#262626" stroke-width="0.9"/>
<line x1="679.6" y1="678.96" x2="676.8" y2="678.96" stroke="#262626" stroke-width="0.9"/>
<line x1="393.2" y1="672.84" x2="395.3" y2="672.84" stroke="#262626" stroke-width="0.85"/>
<line x1="679.6" y1="672.84" x2="677.5" y2="672.84" stroke="#262626" stroke-width="0.85"/>
<line x1="393.2" y1="669.27" x2="395.3" y2="669.27" stroke="#262626" stroke-width="0.85"/>
<line x1="679.6" y1="669.27" x2="677.5" y2="669.27" stroke="#262626" stroke-width="0.85"/>
<line x1="393.2" y1="666.73" x2="395.3" y2="666.73" stroke="#262626" stroke-width="0.85"/>
<line x1="679.6" y1="666.73" x2="677.5" y2="666.73" stroke="#262626" stroke-width="0.85"/>
<line x1="393.2" y1="664.76" x2="395.3" y2="664.76" stroke="#262626" stroke-width="0.85"/>
<line x1="679.6" y1="664.76" x2="677.5" y2="664.76" stroke="#262626" stroke-width="0.85"/>
<line x1="393.2" y1="663.15" x2="395.3" y2="663.15" stroke="#262626" stroke-width="0.85"/>
<line x1="679.6" y1="663.15" x2="677.5" y2="663.15" stroke="#262626" stroke-width="0.85"/>
<line x1="393.2" y1="661.79" x2="395.3" y2="661.79" stroke="#262626" stroke-width="0.85"/>
<line x1="679.6" y1="661.79" x2="677.5" y2="661.79" stroke="#262626" stroke-width="0.85"/>
<line x1="393.2" y1="660.61" x2="395.3" y2="660.61" stroke="#262626" stroke-width="0.85"/>
<line x1="679.6" y1="660.61" x2="677.5" y2="660.61" stroke="#262626" stroke-width="0.85"/>
<line x1="393.2" y1="659.58" x2="395.3" y2="659.58" stroke="#262626" stroke-width="0.85"/>
<line x1="679.6" y1="659.58" x2="677.5" y2="659.58" stroke="#262626" stroke-width="0.85"/>
<line x1="393.2" y1="658.65" x2="396" y2="658.65" stroke="#262626" stroke-width="0.9"/>
<line x1="679.6" y1="658.65" x2="676.8" y2="658.65" stroke="#262626" stroke-width="0.9"/>
<text transform="translate(385.2 663.9) scale(0.76 1)" font-size="10.3" text-anchor="end" fill="#262626" stroke="#262626" stroke-width="0.28">10</text>
<text transform="translate(389.9 658.95) scale(0.75 1)" font-size="8.4" text-anchor="end" fill="#262626" stroke="#262626" stroke-width="0.28">6</text>
<line x1="393.2" y1="652.53" x2="395.3" y2="652.53" stroke="#262626" stroke-width="0.85"/>
<line x1="679.6" y1="652.53" x2="677.5" y2="652.53" stroke="#262626" stroke-width="0.85"/>
<line x1="393.2" y1="648.96" x2="395.3" y2="648.96" stroke="#262626" stroke-width="0.85"/>
<line x1="679.6" y1="648.96" x2="677.5" y2="648.96" stroke="#262626" stroke-width="0.85"/>
<line x1="393.2" y1="646.42" x2="395.3" y2="646.42" stroke="#262626" stroke-width="0.85"/>
<line x1="679.6" y1="646.42" x2="677.5" y2="646.42" stroke="#262626" stroke-width="0.85"/>
<line x1="393.2" y1="644.45" x2="395.3" y2="644.45" stroke="#262626" stroke-width="0.85"/>
<line x1="679.6" y1="644.45" x2="677.5" y2="644.45" stroke="#262626" stroke-width="0.85"/>
<clipPath id="c3"><rect x="393.2" y="644.45" width="286.4" height="258.45"/></clipPath>
<g clip-path="url(#c3)" fill="none" stroke-linejoin="round">
<polyline points="393.77,780.51 394.35,699.27 394.92,722.26 395.49,724.48 396.06,726.6 396.64,728.63 397.21,730.57 397.78,732.44 398.36,734.24 398.93,735.97 399.5,737.65 400.07,739.27 400.65,740.84 401.22,742.36 401.79,743.84 402.36,745.29 402.94,746.69 403.51,748.07 404.08,749.42 404.66,750.74 405.23,752.03 405.8,753.3 406.37,754.55 406.95,755.78 407.52,756.99 408.09,758.19 408.67,759.37 409.24,760.54 409.81,761.69 410.38,762.84 410.96,763.97 411.53,765.09 412.1,766.21 412.68,767.31 413.25,768.41 413.82,769.5 414.39,770.59 414.97,771.67 415.54,772.74 416.11,773.81 416.68,774.88 417.26,775.94 417.83,777 418.4,778.05 418.98,779.1 419.55,780.15 420.12,781.19 420.69,782.24 421.27,783.28 421.84,784.32 422.41,785.35 422.99,786.39 423.56,787.42 424.13,788.45 424.7,789.48 425.28,790.51 425.85,791.54 426.42,792.57 427,793.59 427.57,794.62 428.14,795.64 428.71,796.66 429.29,797.69 429.86,798.71 430.43,799.73 431,800.75 431.58,801.77 432.15,802.79 432.72,803.81 433.3,804.83 433.87,805.85 434.44,806.87 435.01,807.89 435.59,808.91 436.16,809.93 436.73,810.94 437.31,811.96 437.88,812.98 438.45,814 439.02,815.01 439.6,816.03 440.17,817.05 440.74,818.07 441.32,819.08 441.89,820.1 442.46,821.12 443.03,822.13 443.61,823.15 444.18,824.16 444.75,825.18 445.32,826.2 445.9,827.21 446.47,828.23 447.04,829.24 447.62,830.26 448.19,831.28 448.76,832.29 449.33,833.31 449.91,834.32 450.48,835.34 451.05,836.36 451.63,837.37 452.2,838.39 452.77,839.4 453.34,840.42 453.92,841.43 454.49,842.45 455.06,843.47 455.64,844.48 456.21,845.5 456.78,846.51 457.35,847.53 457.93,848.54 458.5,849.56 459.07,850.58 459.64,851.59 460.22,852.61 460.79,853.62 461.36,854.64 461.94,855.65 462.51,856.67 463.08,857.68 463.65,858.7 464.23,859.72 464.8,860.73 465.37,861.75 465.95,862.76 466.52,863.78 467.09,864.79 467.66,865.81 468.24,866.82 468.81,867.84 469.38,868.85 469.96,869.87 470.53,870.89 471.1,871.9 471.67,872.92 472.25,873.93 472.82,874.95 473.39,875.96 473.96,876.98 474.54,877.99 475.11,879.01 475.68,880.03 476.26,881.04 476.83,882.06 477.4,883.07 477.97,884.09 478.55,885.1 479.12,886.12 479.69,887.13 480.27,888.15 480.84,889.17 481.41,890.18 481.98,891.2 482.56,892.21 483.13,893.23 483.7,894.24 484.28,895.26 484.85,896.27 485.42,897.29 485.99,898.3 486.57,899.32 487.14,900.34 487.71,901.35 488.28,902.37 488.86,903.38 489.43,904.4" stroke="#ff0000" stroke-width="1.45"/>
<polyline points="393.43,780.51 393.94,670.83 394.92,691.14" stroke="#0000ff" stroke-width="1.9" stroke-dasharray="3.6 0.7"/>
<polyline points="393.77,780.51 394.35,670.83 394.92,691.14 524.37,902.37 526.09,905.17" stroke="#0000ff" stroke-width="1.6" stroke-dasharray="4.7 1.15 2.7 1.15"/>
<polyline points="393.43,780.51 393.94,658.65 394.92,684.03" stroke="#a08432" stroke-width="1.9" stroke-dasharray="3.6 0.7"/>
<polyline points="393.77,780.51 394.35,658.65 394.92,684.03 669.86,902.37 671.58,903.73" stroke="#a08432" stroke-width="1.6" stroke-dasharray="4.7 1.15 2.7 1.15"/>
</g>
<text transform="translate(529.4 928.5) scale(0.83 1)" font-size="10.5" text-anchor="middle" fill="#262626" stroke="#262626" stroke-width="0.28">Number of iterations</text>
<text transform="translate(369 773.58) rotate(-90)" font-size="10.6" text-anchor="middle" fill="#262626" font-family='"Liberation Serif", serif' font-style="italic" stroke="#262626" stroke-width="0.4">e<tspan font-size="6.5" dy="1.6">i</tspan></text>
<rect x="618.9" y="652.3" width="49.6" height="36.1" fill="#fff" stroke="#262626" stroke-width="0.8"/>
<line x1="620.7" y1="659.05" x2="636.3" y2="659.05" stroke="#ff0000" stroke-width="1.6"/>
<text transform="translate(637.5 662.4) scale(0.81 1)" font-size="9.2" text-anchor="start" fill="#111" stroke="#111" stroke-width="0.28">YAS Alg</text>
<line x1="620.7" y1="670.3" x2="636.3" y2="670.3" stroke="#0000ff" stroke-width="1.6" stroke-dasharray="4.9 1.1 2.7 1.2"/>
<text transform="translate(637.5 673.65) scale(0.81 1)" font-size="9.2" text-anchor="start" fill="#111" stroke="#111" stroke-width="0.28">BCV Alg</text>
<line x1="620.7" y1="681.55" x2="636.3" y2="681.55" stroke="#a08432" stroke-width="1.6" stroke-dasharray="4.9 1.1 2.7 1.2"/>
<text transform="translate(637.5 684.9) scale(0.81 1)" font-size="9.2" text-anchor="start" fill="#111" stroke="#111" stroke-width="0.28">BSV Alg</text>
</g>
</svg>
</body>
</html>
